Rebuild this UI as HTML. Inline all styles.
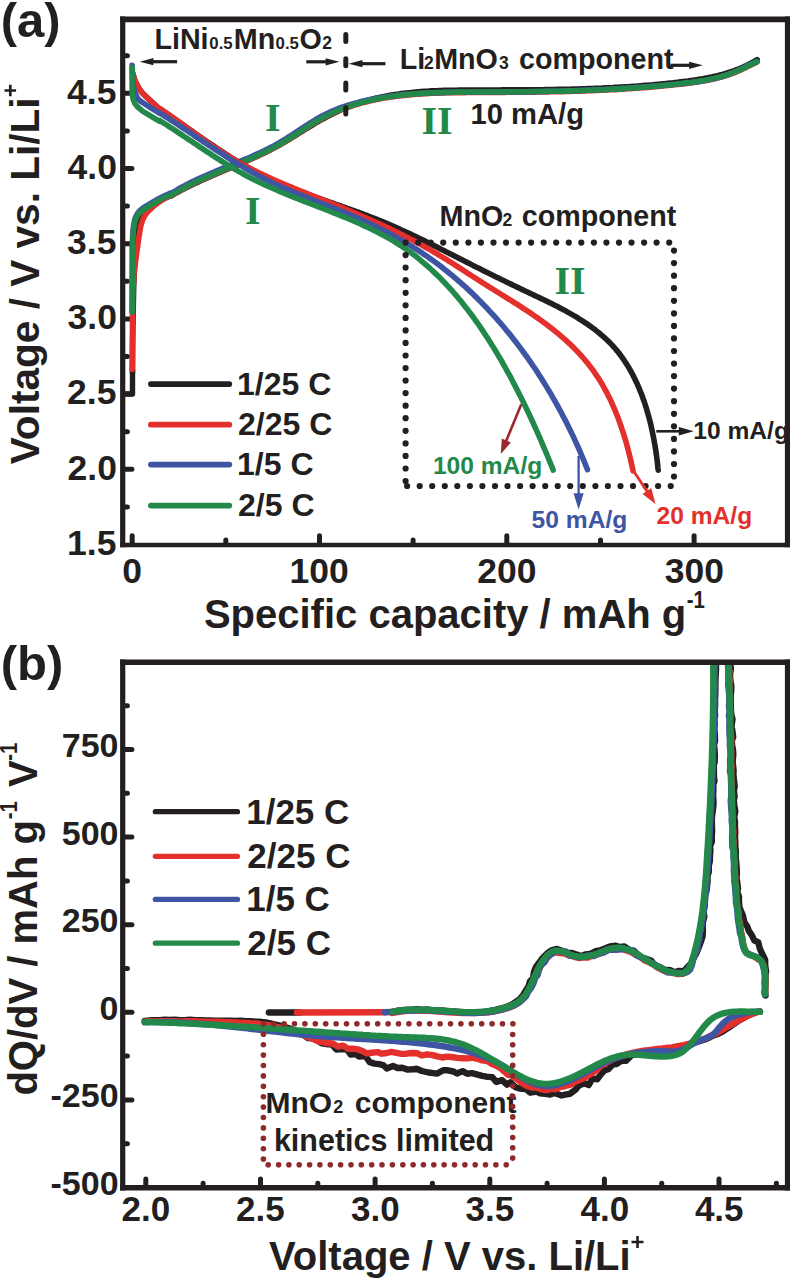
<!DOCTYPE html>
<html><head><meta charset="utf-8"><style>
html,body{margin:0;padding:0;background:#fff;}
svg{display:block;}
text{font-family:"Liberation Sans",sans-serif;font-weight:bold;fill:#231f20;}
</style></head><body>
<svg width="790" height="1280" viewBox="0 0 790 1280">
<rect width="790" height="1280" fill="#fff"/>
<text x="67.1" y="554.7" font-size="35.5">1.5</text>
<line x1="125" y1="469.3" x2="131.9" y2="469.3" stroke="#231f20" stroke-width="5" stroke-linecap="round"/>
<text x="67.6" y="479.5" font-size="35.5">2.0</text>
<line x1="125" y1="394.1" x2="131.9" y2="394.1" stroke="#231f20" stroke-width="5" stroke-linecap="round"/>
<text x="67.1" y="404.3" font-size="35.5">2.5</text>
<line x1="125" y1="318.9" x2="131.9" y2="318.9" stroke="#231f20" stroke-width="5" stroke-linecap="round"/>
<text x="67.6" y="329.1" font-size="35.5">3.0</text>
<line x1="125" y1="243.7" x2="131.9" y2="243.7" stroke="#231f20" stroke-width="5" stroke-linecap="round"/>
<text x="67.1" y="253.9" font-size="35.5">3.5</text>
<line x1="125" y1="168.5" x2="131.9" y2="168.5" stroke="#231f20" stroke-width="5" stroke-linecap="round"/>
<text x="67.6" y="178.7" font-size="35.5">4.0</text>
<line x1="125" y1="93.3" x2="131.9" y2="93.3" stroke="#231f20" stroke-width="5" stroke-linecap="round"/>
<text x="67.1" y="103.5" font-size="35.5">4.5</text>
<line x1="125" y1="506.9" x2="127.4" y2="506.9" stroke="#231f20" stroke-width="5" stroke-linecap="round"/>
<line x1="125" y1="431.7" x2="127.4" y2="431.7" stroke="#231f20" stroke-width="5" stroke-linecap="round"/>
<line x1="125" y1="356.5" x2="127.4" y2="356.5" stroke="#231f20" stroke-width="5" stroke-linecap="round"/>
<line x1="125" y1="281.3" x2="127.4" y2="281.3" stroke="#231f20" stroke-width="5" stroke-linecap="round"/>
<line x1="125" y1="206.1" x2="127.4" y2="206.1" stroke="#231f20" stroke-width="5" stroke-linecap="round"/>
<line x1="125" y1="130.9" x2="127.4" y2="130.9" stroke="#231f20" stroke-width="5" stroke-linecap="round"/>
<line x1="125" y1="55.7" x2="127.4" y2="55.7" stroke="#231f20" stroke-width="5" stroke-linecap="round"/>
<line x1="132.2" y1="542.7" x2="132.2" y2="535.7" stroke="#231f20" stroke-width="5" stroke-linecap="round"/>
<text x="122.3" y="582.5" font-size="35.5">0</text>
<line x1="319.5" y1="542.7" x2="319.5" y2="535.7" stroke="#231f20" stroke-width="5" stroke-linecap="round"/>
<text x="289.5" y="582.5" font-size="35.5">100</text>
<line x1="506.8" y1="542.7" x2="506.8" y2="535.7" stroke="#231f20" stroke-width="5" stroke-linecap="round"/>
<text x="477.3" y="582.5" font-size="35.5">200</text>
<line x1="694.1" y1="542.7" x2="694.1" y2="535.7" stroke="#231f20" stroke-width="5" stroke-linecap="round"/>
<text x="664.8" y="582.5" font-size="35.5">300</text>
<line x1="225.8" y1="542.7" x2="225.8" y2="540" stroke="#231f20" stroke-width="5" stroke-linecap="round"/>
<line x1="413.1" y1="542.7" x2="413.1" y2="540" stroke="#231f20" stroke-width="5" stroke-linecap="round"/>
<line x1="600.5" y1="542.7" x2="600.5" y2="540" stroke="#231f20" stroke-width="5" stroke-linecap="round"/>
<text x="0.7" y="37.3" font-size="49">(a)</text>
<text x="203.9" y="628" font-size="40">Specific capacity / mAh g</text>
<text transform="translate(686.8,607.8) scale(0.85,1)" font-size="24">-1</text>
<g transform="translate(38.6,464) rotate(-90)"><text x="-0.2" y="0" font-size="40.6">Voltage / V vs. Li/Li</text></g>
<path d="M4.5,90.5 H16.1 M10.3,84.7 V96.3" stroke="#231f20" stroke-width="2.7" fill="none"/>
<line x1="150.9" y1="384.1" x2="229.3" y2="384.1" stroke="#231f20" stroke-width="5.7" stroke-linecap="round"/>
<text x="237" y="394.6" font-size="32">1/25 C</text>
<line x1="150.9" y1="424.7" x2="229.3" y2="424.7" stroke="#e3302c" stroke-width="5.7" stroke-linecap="round"/>
<text x="238" y="435.2" font-size="32">2/25 C</text>
<line x1="150.9" y1="464.6" x2="229.3" y2="464.6" stroke="#3d55a3" stroke-width="5.7" stroke-linecap="round"/>
<text x="237" y="475.1" font-size="32">1/5 C</text>
<line x1="150.9" y1="505.6" x2="229.3" y2="505.6" stroke="#23894a" stroke-width="5.7" stroke-linecap="round"/>
<text x="238" y="516.1" font-size="32">2/5 C</text>
<text x="154.4" y="48.8" font-size="28.7">LiNi</text>
<text x="209.3" y="48.8" font-size="16.8">0.5</text>
<text x="233.8" y="48.8" font-size="28.7">Mn</text>
<text x="275.6" y="48.8" font-size="16.8">0.5</text>
<text x="299.4" y="48.8" font-size="28.7">O</text>
<text x="322.2" y="48.8" font-size="17.5">2</text>
<text x="399.7" y="68.8" font-size="28.7">Li</text>
<text x="424" y="68.8" font-size="17.5">2</text>
<text x="434.2" y="68.8" font-size="28.7">MnO</text>
<text x="499.1" y="68.8" font-size="17.5">3</text>
<text x="519" y="68.8" font-size="28.7">component</text>
<text x="265" y="131" font-size="40" style="font-family:'Liberation Serif',serif;fill:#23894a">I</text>
<text x="245.1" y="223.7" font-size="40" style="font-family:'Liberation Serif',serif;fill:#23894a">I</text>
<text x="421.5" y="134.3" font-size="40" style="font-family:'Liberation Serif',serif;fill:#23894a">II</text>
<text x="554.4" y="294.4" font-size="40" style="font-family:'Liberation Serif',serif;fill:#23894a">II</text>
<text x="470.5" y="124.3" font-size="29.2">10 mA/g</text>
<text x="439.6" y="226.3" font-size="28.7">MnO</text>
<text x="502.4" y="226.3" font-size="17.5">2</text>
<text x="521.7" y="226.3" font-size="28.7">component</text>
<path d="M126,394 H132.5 V370" fill="none" stroke="#231f20" stroke-width="5.4" stroke-linecap="round" stroke-linejoin="round"/>
<path d="M132.5,372 C132.6,365 132.6,343.7 132.8,330 C133,316.3 133.3,301.3 133.6,290 C133.9,278.7 134.4,269.7 134.8,262 C135.2,254.3 135.6,249.5 136.2,244 C136.8,238.5 137.4,233.1 138.2,229 C139,224.9 139.8,222.1 140.8,219.5 C141.9,216.9 143.1,214.9 144.5,213.2 C145.9,211.4 147.1,211 149.5,209 C151.9,207 155.6,203.4 159.2,201.2 C162.8,198.9 168.9,196.4 170.9,195.5 L171.1,195.9 L173.3,194.7 L175.5,193.4 L177.7,192.2 L179.9,191 L182.1,189.8 L184.3,188.7 L186.6,187.5 L188.8,186.4 L191.1,185.3 L193.4,184.2 L195.6,183.1 L197.9,182.1 L200.2,181 L202.5,180 L204.8,179 L207.1,177.9 L209.4,176.9 L211.7,175.9 L214,174.9 L216.3,173.9 L218.6,172.9 L220.9,171.9 L223.3,171 L225.6,170 L227.9,169 L230.2,168 L232.5,167 L234.8,166 L237.2,165.1 L239.5,164.1 L241.8,163.1 L244.1,162.1 L246.4,161.1 L248.7,160 L251,159 L253.3,158 L255.6,157 L257.9,155.9 L260.1,154.8 L262.4,153.8 L264.7,152.7 L266.9,151.6 L269.2,150.4 L271.4,149.3 L273.6,148.1 L275.8,147 L278,145.8 L280.2,144.5 L282.4,143.3 L284.6,142 L286.8,140.8 L288.9,139.5 L291.1,138.2 L293.2,136.9 L295.4,135.6 L297.5,134.2 L299.6,132.9 L301.8,131.6 L303.9,130.2 L306.1,128.9 L308.2,127.6 L310.3,126.3 L312.5,125 L314.7,123.7 L316.8,122.4 L319,121.2 L321.2,119.9 L323.4,118.7 L325.6,117.5 L327.8,116.3 L330,115.2 L332.3,114 L334.5,112.9 L336.8,111.9 L339.1,110.8 L341.3,109.8 L343.6,108.8 L346,107.9 L348.3,106.9 L350.6,106 L352.9,105.2 L355.3,104.3 L357.6,103.5 L360,102.7 L362.4,102 L364.8,101.2 L367.2,100.5 L369.6,99.9 L372,99.2 L374.4,98.6 L376.8,98.1 L379.2,97.5 L381.6,97 L384.1,96.5 L386.5,96 L389,95.5 L391.4,95.1 L393.9,94.7 L396.4,94.3 L398.8,94 L401.3,93.6 L403.8,93.3 L406.3,93 L408.8,92.7 L411.2,92.5 L413.7,92.2 L416.2,92 L418.8,91.8 L421.3,91.6 L423.8,91.4 L426.3,91.2 L428.8,91.1 L431.3,90.9 L433.9,90.8 L436.4,90.7 L438.9,90.6 L441.4,90.5 L444,90.4 L446.5,90.4 L449,90.3 L451.6,90.3 L454.1,90.2 L456.7,90.2 L459.2,90.1 L461.7,90.1 L464.3,90.1 L466.8,90.1 L469.4,90 L471.9,90 L474.4,90 L477,90 L479.5,90 L482.1,90 L484.6,90 L487.1,90 L489.7,90 L492.2,90 L494.7,90 L497.3,90 L499.8,90 L502.3,89.9 L504.9,89.9 L507.4,89.9 L509.9,89.9 L512.4,89.9 L515,89.9 L517.5,89.9 L520,89.9 L522.5,89.9 L525.1,89.8 L527.6,89.8 L530.1,89.8 L532.6,89.8 L535.2,89.7 L537.7,89.7 L540.2,89.7 L542.7,89.7 L545.2,89.6 L547.7,89.6 L550.3,89.6 L552.8,89.5 L555.3,89.5 L557.8,89.4 L560.3,89.4 L562.8,89.3 L565.3,89.3 L567.9,89.2 L570.4,89.2 L572.9,89.1 L575.4,89 L577.9,89 L580.4,88.9 L582.9,88.8 L585.4,88.7 L587.9,88.6 L590.4,88.6 L593,88.5 L595.5,88.4 L598,88.3 L600.5,88.2 L603,88 L605.5,87.9 L608,87.8 L610.5,87.7 L613,87.6 L615.5,87.4 L618,87.3 L620.5,87.1 L623,87 L625.5,86.8 L628,86.7 L630.5,86.5 L633,86.3 L635.5,86.2 L638,86 L640.5,85.8 L643,85.6 L645.5,85.4 L648,85.2 L650.5,85 L653,84.8 L655.5,84.5 L658,84.3 L660.5,84.1 L663,83.8 L665.5,83.6 L668,83.3 L670.5,83 L673,82.8 L675.5,82.5 L678,82.2 L680.5,81.9 L683,81.6 L685.5,81.3 L688,81 L690.5,80.6 L692.9,80.3 L695.4,79.9 L697.9,79.5 L700.4,79.1 L702.9,78.7 L705.3,78.2 L707.8,77.8 L710.3,77.3 L712.7,76.8 L715.1,76.2 L717.6,75.6 L720,75 L722.4,74.4 L724.8,73.7 L727.2,73 L729.6,72.2 L732,71.4 L734.3,70.6 L736.7,69.7 L739,68.8 L741.3,67.8 L743.7,66.8 L745.9,65.7 L748.2,64.6 L750.5,63.4 L752.7,62.2 L755,60.9 L757.2,59.6" fill="none" stroke="#231f20" stroke-width="5.6" stroke-linecap="round" stroke-linejoin="round"/>
<path d="M132.2,369.5 C132.2,364.6 132.3,349.6 132.4,340 C132.5,330.4 132.5,320.3 132.6,312 C132.7,303.7 132.8,296.2 133,290 C133.2,283.8 133.6,279.7 134,275 C134.4,270.3 134.9,266.5 135.5,262 C136.1,257.5 136.8,252 137.4,248 C138,244 138.2,241.7 138.8,238 C139.4,234.3 140,229.3 140.8,226 C141.6,222.7 142.3,220.4 143.5,218 C144.7,215.6 145.4,214.2 148,211.5 C150.6,208.8 155.4,204.7 159.2,202 C163,199.3 168.7,196.5 170.6,195.4 L170.9,196 L173.1,194.7 L175.2,193.4 L177.4,192.1 L179.6,190.9 L181.8,189.6 L184,188.4 L186.2,187.3 L188.4,186.1 L190.7,185 L192.9,183.9 L195.2,182.8 L197.4,181.7 L199.7,180.7 L202,179.6 L204.3,178.6 L206.6,177.6 L208.9,176.6 L211.2,175.6 L213.5,174.6 L215.9,173.6 L218.2,172.7 L220.5,171.7 L222.8,170.7 L225.2,169.8 L227.5,168.8 L229.8,167.9 L232.2,166.9 L234.5,166 L236.8,165 L239.1,164.1 L241.5,163.1 L243.8,162.1 L246.1,161.1 L248.4,160.1 L250.7,159.1 L253,158.1 L255.3,157.1 L257.6,156.1 L259.9,155 L262.2,154 L264.4,152.9 L266.7,151.8 L268.9,150.6 L271.2,149.5 L273.4,148.3 L275.6,147.1 L277.8,145.9 L280,144.7 L282.1,143.4 L284.3,142.1 L286.4,140.8 L288.6,139.5 L290.7,138.2 L292.8,136.8 L295,135.4 L297.1,134.1 L299.2,132.7 L301.3,131.3 L303.4,130 L305.5,128.6 L307.7,127.2 L309.8,125.9 L311.9,124.6 L314.1,123.3 L316.2,122 L318.4,120.7 L320.6,119.5 L322.7,118.3 L324.9,117.1 L327.2,115.9 L329.4,114.8 L331.7,113.8 L333.9,112.7 L336.2,111.7 L338.5,110.8 L340.8,109.9 L343.2,109 L345.5,108.1 L347.9,107.3 L350.2,106.5 L352.6,105.7 L355,104.9 L357.4,104.2 L359.8,103.5 L362.2,102.9 L364.6,102.3 L367,101.7 L369.4,101.1 L371.8,100.5 L374.3,100 L376.7,99.5 L379.2,99 L381.6,98.6 L384.1,98.1 L386.5,97.7 L389,97.3 L391.4,96.9 L393.9,96.6 L396.4,96.3 L398.9,95.9 L401.4,95.6 L403.8,95.4 L406.3,95.1 L408.8,94.9 L411.3,94.6 L413.8,94.4 L416.3,94.2 L418.8,94.1 L421.4,93.9 L423.9,93.7 L426.4,93.6 L428.9,93.5 L431.4,93.3 L433.9,93.2 L436.5,93.1 L439,93 L441.5,93 L444,92.9 L446.6,92.8 L449.1,92.8 L451.6,92.7 L454.2,92.7 L456.7,92.6 L459.2,92.6 L461.8,92.6 L464.3,92.6 L466.8,92.5 L469.4,92.5 L471.9,92.5 L474.4,92.5 L477,92.5 L479.5,92.5 L482,92.5 L484.5,92.5 L487.1,92.5 L489.6,92.4 L492.1,92.4 L494.7,92.4 L497.2,92.4 L499.7,92.4 L502.2,92.4 L504.8,92.4 L507.3,92.3 L509.8,92.3 L512.3,92.3 L514.9,92.3 L517.4,92.3 L519.9,92.2 L522.4,92.2 L524.9,92.2 L527.4,92.2 L530,92.1 L532.5,92.1 L535,92.1 L537.5,92 L540,92 L542.5,92 L545.1,91.9 L547.6,91.9 L550.1,91.8 L552.6,91.8 L555.1,91.7 L557.6,91.7 L560.1,91.6 L562.6,91.6 L565.2,91.5 L567.7,91.4 L570.2,91.4 L572.7,91.3 L575.2,91.2 L577.7,91.2 L580.2,91.1 L582.7,91 L585.2,90.9 L587.7,90.8 L590.2,90.7 L592.7,90.6 L595.2,90.5 L597.8,90.4 L600.3,90.3 L602.8,90.2 L605.3,90.1 L607.8,90 L610.3,89.8 L612.8,89.7 L615.3,89.6 L617.8,89.4 L620.3,89.3 L622.8,89.1 L625.3,89 L627.8,88.8 L630.3,88.6 L632.8,88.5 L635.3,88.3 L637.8,88.1 L640.3,87.9 L642.8,87.8 L645.3,87.6 L647.8,87.4 L650.3,87.2 L652.8,86.9 L655.3,86.7 L657.8,86.5 L660.3,86.3 L662.8,86 L665.3,85.8 L667.8,85.5 L670.3,85.3 L672.8,85 L675.3,84.8 L677.8,84.5 L680.3,84.2 L682.8,83.9 L685.3,83.6 L687.8,83.3 L690.3,83 L692.7,82.7 L695.2,82.3 L697.7,81.9 L700.2,81.5 L702.7,81.1 L705.1,80.7 L707.6,80.2 L710,79.7 L712.5,79.2 L714.9,78.7 L717.4,78.1 L719.8,77.4 L722.2,76.8 L724.6,76.1 L727,75.3 L729.3,74.5 L731.7,73.7 L734,72.8 L736.4,71.9 L738.7,70.9 L741,69.9 L743.3,68.8 L745.6,67.7 L747.8,66.6 L750.1,65.5 L752.4,64.3 L754.6,63.2 L756.9,62" fill="none" stroke="#e3302c" stroke-width="5.6" stroke-linecap="round" stroke-linejoin="round"/>
<path d="M132.2,312 C132.2,303.4 132.3,271.7 132.3,260.2 C132.3,248.7 132.2,248.4 132.4,243.2 C132.6,238 132.7,233.1 133.2,228.8 C133.7,224.5 134.3,220.4 135.4,217.4 C136.5,214.3 138,212.5 140,210.5 C142,208.5 144.4,207.2 147.6,205.2 C150.8,203.2 155.2,200.4 159,198.4 C162.8,196.4 168.5,194 170.4,193.1 L170.7,193.8 L172.9,192.4 L175,191.1 L177.2,189.8 L179.3,188.5 L181.5,187.3 L183.7,186.1 L186,184.9 L188.2,183.8 L190.4,182.6 L192.7,181.5 L194.9,180.4 L197.2,179.3 L199.5,178.3 L201.8,177.2 L204.1,176.2 L206.4,175.2 L208.7,174.2 L211,173.2 L213.3,172.3 L215.6,171.3 L217.9,170.3 L220.3,169.4 L222.6,168.4 L224.9,167.5 L227.3,166.5 L229.6,165.6 L231.9,164.7 L234.3,163.7 L236.6,162.8 L238.9,161.8 L241.2,160.9 L243.6,159.9 L245.9,158.9 L248.2,158 L250.5,157 L252.8,156 L255.1,154.9 L257.4,153.9 L259.7,152.9 L261.9,151.8 L264.2,150.7 L266.5,149.6 L268.7,148.5 L270.9,147.3 L273.1,146.2 L275.4,145 L277.5,143.7 L279.7,142.5 L281.9,141.2 L284,139.9 L286.2,138.6 L288.3,137.2 L290.4,135.8 L292.6,134.5 L294.7,133.1 L296.8,131.7 L298.9,130.3 L301,128.9 L303.1,127.5 L305.2,126.1 L307.3,124.8 L309.5,123.4 L311.6,122.1 L313.7,120.8 L315.9,119.5 L318,118.2 L320.2,117 L322.4,115.8 L324.6,114.7 L326.9,113.5 L329.1,112.5 L331.4,111.4 L333.6,110.5 L335.9,109.5 L338.2,108.6 L340.6,107.7 L342.9,106.9 L345.3,106.1 L347.6,105.3 L350,104.6 L352.4,103.9 L354.8,103.2 L357.2,102.6 L359.6,101.9 L362,101.3 L364.4,100.8 L366.8,100.2 L369.3,99.7 L371.7,99.2 L374.2,98.7 L376.6,98.3 L379.1,97.9 L381.5,97.4 L384,97.1 L386.4,96.7 L388.9,96.3 L391.4,96 L393.9,95.7 L396.4,95.4 L398.8,95.1 L401.3,94.9 L403.8,94.6 L406.3,94.4 L408.8,94.2 L411.3,94 L413.8,93.8 L416.3,93.6 L418.8,93.5 L421.3,93.3 L423.9,93.2 L426.4,93.1 L428.9,93 L431.4,92.9 L433.9,92.8 L436.5,92.7 L439,92.6 L441.5,92.6 L444,92.5 L446.6,92.5 L449.1,92.4 L451.6,92.4 L454.2,92.3 L456.7,92.3 L459.2,92.3 L461.8,92.3 L464.3,92.2 L466.8,92.2 L469.4,92.2 L471.9,92.2 L474.4,92.2 L477,92.2 L479.5,92.2 L482,92.2 L484.5,92.1 L487.1,92.1 L489.6,92.1 L492.1,92.1 L494.6,92.1 L497.2,92.1 L499.7,92 L502.2,92 L504.7,92 L507.2,92 L509.8,92 L512.3,91.9 L514.8,91.9 L517.3,91.9 L519.8,91.8 L522.4,91.8 L524.9,91.8 L527.4,91.7 L529.9,91.7 L532.4,91.7 L534.9,91.6 L537.4,91.6 L539.9,91.5 L542.5,91.5 L545,91.4 L547.5,91.4 L550,91.3 L552.5,91.3 L555,91.2 L557.5,91.1 L560,91.1 L562.5,91 L565,90.9 L567.5,90.8 L570,90.8 L572.5,90.7 L575.1,90.6 L577.6,90.5 L580.1,90.4 L582.6,90.3 L585.1,90.2 L587.6,90.1 L590.1,90 L592.6,89.9 L595.1,89.8 L597.6,89.7 L600.1,89.6 L602.6,89.5 L605.1,89.4 L607.6,89.2 L610.1,89.1 L612.6,89 L615.1,88.8 L617.6,88.7 L620.1,88.6 L622.6,88.4 L625.1,88.3 L627.6,88.1 L630.1,87.9 L632.6,87.8 L635.1,87.6 L637.6,87.4 L640.1,87.2 L642.6,87.1 L645.1,86.9 L647.6,86.7 L650.1,86.5 L652.6,86.3 L655.1,86.1 L657.6,85.9 L660.1,85.7 L662.6,85.4 L665.1,85.2 L667.6,85 L670.1,84.7 L672.6,84.5 L675.1,84.3 L677.6,84 L680.1,83.8 L682.6,83.5 L685.1,83.2 L687.6,82.9 L690.1,82.7 L692.6,82.3 L695.1,82 L697.6,81.7 L700.1,81.3 L702.6,80.9 L705,80.5 L707.5,80 L710,79.5 L712.4,79 L714.8,78.4 L717.2,77.8 L719.7,77.2 L722.1,76.5 L724.4,75.7 L726.8,74.9 L729.2,74.1 L731.5,73.2 L733.8,72.2 L736.1,71.2 L738.4,70.1 L740.7,68.9 L742.9,67.8 L745.2,66.7 L747.5,65.6 L749.8,64.5 L752.1,63.6 L754.5,62.7 L756.8,61.9" fill="none" stroke="#3d55a3" stroke-width="5.6" stroke-linecap="round" stroke-linejoin="round"/>
<path d="M132.2,311.7 C132.2,303.4 132.4,273.1 132.5,262 C132.6,250.9 132.4,250.2 132.6,245 C132.8,239.8 132.9,234.9 133.4,230.6 C133.9,226.3 134.5,222.2 135.6,219.2 C136.7,216.1 138.2,214.3 140.2,212.3 C142.2,210.3 144.6,209 147.8,207 C151,205 155.4,202.2 159.2,200.2 C163,198.2 168.7,195.8 170.6,194.9 L170.9,195.5 L173.1,194.2 L175.2,192.9 L177.4,191.6 L179.6,190.4 L181.8,189.1 L184,187.9 L186.2,186.8 L188.4,185.6 L190.7,184.5 L192.9,183.4 L195.2,182.3 L197.4,181.2 L199.7,180.2 L202,179.1 L204.3,178.1 L206.6,177.1 L208.9,176.1 L211.2,175.1 L213.5,174.1 L215.9,173.1 L218.2,172.2 L220.5,171.2 L222.8,170.2 L225.2,169.3 L227.5,168.3 L229.8,167.4 L232.2,166.4 L234.5,165.5 L236.8,164.5 L239.1,163.6 L241.5,162.6 L243.8,161.6 L246.1,160.6 L248.4,159.6 L250.7,158.6 L253,157.6 L255.3,156.6 L257.6,155.6 L259.9,154.5 L262.2,153.5 L264.4,152.4 L266.7,151.3 L268.9,150.1 L271.2,149 L273.4,147.8 L275.6,146.6 L277.8,145.4 L280,144.2 L282.1,142.9 L284.3,141.6 L286.4,140.3 L288.6,139 L290.7,137.7 L292.8,136.3 L295,134.9 L297.1,133.6 L299.2,132.2 L301.3,130.8 L303.4,129.5 L305.5,128.1 L307.7,126.7 L309.8,125.4 L311.9,124.1 L314.1,122.8 L316.2,121.5 L318.4,120.2 L320.6,119 L322.7,117.8 L324.9,116.6 L327.2,115.4 L329.4,114.3 L331.7,113.3 L333.9,112.2 L336.2,111.2 L338.5,110.3 L340.8,109.4 L343.2,108.5 L345.5,107.6 L347.9,106.8 L350.2,106 L352.6,105.2 L355,104.4 L357.4,103.7 L359.8,103 L362.2,102.4 L364.6,101.8 L367,101.2 L369.4,100.6 L371.8,100 L374.3,99.5 L376.7,99 L379.2,98.5 L381.6,98.1 L384.1,97.6 L386.5,97.2 L389,96.8 L391.4,96.4 L393.9,96.1 L396.4,95.8 L398.9,95.4 L401.4,95.1 L403.8,94.9 L406.3,94.6 L408.8,94.4 L411.3,94.1 L413.8,93.9 L416.3,93.7 L418.8,93.6 L421.4,93.4 L423.9,93.2 L426.4,93.1 L428.9,93 L431.4,92.8 L433.9,92.7 L436.5,92.6 L439,92.5 L441.5,92.5 L444,92.4 L446.6,92.3 L449.1,92.3 L451.6,92.2 L454.2,92.2 L456.7,92.1 L459.2,92.1 L461.8,92.1 L464.3,92.1 L466.8,92 L469.4,92 L471.9,92 L474.4,92 L477,92 L479.5,92 L482,92 L484.5,92 L487.1,92 L489.6,91.9 L492.1,91.9 L494.7,91.9 L497.2,91.9 L499.7,91.9 L502.2,91.9 L504.8,91.9 L507.3,91.8 L509.8,91.8 L512.3,91.8 L514.9,91.8 L517.4,91.8 L519.9,91.7 L522.4,91.7 L524.9,91.7 L527.4,91.7 L530,91.6 L532.5,91.6 L535,91.6 L537.5,91.5 L540,91.5 L542.5,91.5 L545.1,91.4 L547.6,91.4 L550.1,91.3 L552.6,91.3 L555.1,91.2 L557.6,91.2 L560.1,91.1 L562.6,91.1 L565.2,91 L567.7,90.9 L570.2,90.9 L572.7,90.8 L575.2,90.7 L577.7,90.7 L580.2,90.6 L582.7,90.5 L585.2,90.4 L587.7,90.3 L590.2,90.2 L592.7,90.1 L595.2,90 L597.8,89.9 L600.3,89.8 L602.8,89.7 L605.3,89.6 L607.8,89.5 L610.3,89.3 L612.8,89.2 L615.3,89.1 L617.8,88.9 L620.3,88.8 L622.8,88.6 L625.3,88.5 L627.8,88.3 L630.3,88.1 L632.8,88 L635.3,87.8 L637.8,87.6 L640.3,87.4 L642.8,87.3 L645.3,87.1 L647.8,86.9 L650.3,86.7 L652.8,86.4 L655.3,86.2 L657.8,86 L660.3,85.8 L662.8,85.5 L665.3,85.3 L667.8,85 L670.3,84.8 L672.8,84.5 L675.3,84.3 L677.8,84 L680.3,83.7 L682.8,83.4 L685.3,83.1 L687.8,82.8 L690.3,82.5 L692.7,82.2 L695.2,81.8 L697.7,81.4 L700.2,81 L702.7,80.6 L705.1,80.2 L707.6,79.7 L710,79.2 L712.5,78.7 L714.9,78.2 L717.4,77.6 L719.8,76.9 L722.2,76.3 L724.6,75.6 L727,74.8 L729.3,74 L731.7,73.2 L734,72.3 L736.4,71.4 L738.7,70.4 L741,69.4 L743.3,68.3 L745.6,67.2 L747.8,66.1 L750.1,65 L752.4,63.8 L754.6,62.7 L756.9,61.5" fill="none" stroke="#23894a" stroke-width="5.6" stroke-linecap="round" stroke-linejoin="round"/>
<path d="M133,74 C133.4,75.2 133.8,78.1 135.3,81.2 C136.8,84.3 138.1,88 142.1,92.6 C146.1,97.1 156.3,105.8 159.2,108.5 L159.3,108.4 L161.4,109.8 L163.4,111.2 L165.5,112.6 L167.6,114 L169.6,115.5 L171.7,116.9 L173.7,118.3 L175.8,119.8 L177.8,121.2 L179.9,122.7 L182,124.1 L184,125.6 L186.1,127 L188.1,128.5 L190.2,129.9 L192.3,131.4 L194.3,132.8 L196.4,134.3 L198.5,135.7 L200.6,137.2 L202.6,138.6 L204.7,140 L206.8,141.5 L208.9,142.9 L211,144.3 L213.1,145.7 L215.2,147.1 L217.3,148.6 L219.4,149.9 L221.5,151.3 L223.6,152.7 L225.7,154.1 L227.9,155.4 L230,156.8 L232.1,158.1 L234.3,159.4 L236.4,160.8 L238.6,162 L240.8,163.3 L242.9,164.6 L245.1,165.9 L247.3,167.1 L249.5,168.3 L251.7,169.5 L253.9,170.7 L256.1,171.9 L258.4,173.1 L260.6,174.2 L262.8,175.3 L265.1,176.4 L267.4,177.5 L269.6,178.6 L271.9,179.6 L274.2,180.7 L276.5,181.7 L278.8,182.7 L281.1,183.7 L283.4,184.7 L285.7,185.6 L288,186.6 L290.4,187.5 L292.7,188.5 L295,189.4 L297.4,190.3 L299.7,191.2 L302.1,192.1 L304.4,193 L306.8,193.9 L309.1,194.7 L311.5,195.6 L313.9,196.5 L316.2,197.3 L318.6,198.2 L321,199 L323.3,199.9 L325.7,200.7 L328.1,201.6 L330.5,202.4 L332.9,203.2 L335.2,204.1 L337.6,204.9 L340,205.7 L342.4,206.6 L344.7,207.4 L347.1,208.3 L349.5,209.1 L351.9,210 L354.2,210.8 L356.6,211.7 L359,212.5 L361.3,213.4 L363.7,214.3 L366.1,215.2 L368.4,216.1 L370.8,217 L373.1,217.9 L375.5,218.8 L377.8,219.7 L380.1,220.7 L382.4,221.6 L384.8,222.6 L387.1,223.6 L389.4,224.6 L391.7,225.6 L394,226.6 L396.3,227.6 L398.6,228.6 L400.9,229.7 L403.2,230.7 L405.5,231.8 L407.7,232.8 L410,233.9 L412.3,235 L414.5,236 L416.8,237.1 L419.1,238.2 L421.3,239.3 L423.6,240.4 L425.8,241.5 L428.1,242.7 L430.3,243.8 L432.6,244.9 L434.8,246 L437,247.1 L439.3,248.3 L441.5,249.4 L443.8,250.5 L446,251.7 L448.2,252.8 L450.4,253.9 L452.7,255.1 L454.9,256.2 L457.1,257.3 L459.4,258.5 L461.6,259.6 L463.8,260.7 L466,261.9 L468.3,263 L470.5,264.1 L472.7,265.3 L474.9,266.4 L477.2,267.5 L479.4,268.6 L481.6,269.7 L483.8,270.9 L486.1,272 L488.3,273.1 L490.6,274.2 L492.8,275.3 L495,276.4 L497.3,277.5 L499.5,278.6 L501.8,279.7 L504.1,280.8 L506.3,281.9 L508.6,283 L510.9,284.1 L513.1,285.2 L515.4,286.3 L517.7,287.4 L520,288.5 L522.3,289.6 L524.6,290.7 L526.9,291.8 L529.2,292.9 L531.6,294 L533.9,295.1 L536.2,296.2 L538.5,297.3 L540.8,298.4 L543.2,299.5 L545.5,300.6 L547.8,301.7 L550.1,302.9 L552.4,304 L554.7,305.2 L557,306.3 L559.2,307.5 L561.5,308.7 L563.7,309.9 L566,311.1 L568.2,312.4 L570.4,313.6 L572.6,314.9 L574.8,316.1 L577,317.4 L579.1,318.8 L581.2,320.1 L583.3,321.5 L585.4,322.8 L587.5,324.2 L589.5,325.7 L591.6,327.1 L593.5,328.6 L595.5,330.1 L597.4,331.6 L599.4,333.2 L601.2,334.8 L603.1,336.4 L604.9,338 L606.7,339.7 L608.5,341.4 L610.2,343.1 L611.9,344.9 L613.5,346.7 L615.1,348.5 L616.7,350.4 L618.3,352.3 L619.8,354.3 L621.2,356.2 L622.7,358.2 L624.1,360.3 L625.4,362.3 L626.8,364.4 L628.1,366.5 L629.4,368.7 L630.6,370.8 L631.8,373 L633,375.2 L634.1,377.4 L635.2,379.7 L636.3,382 L637.4,384.3 L638.4,386.6 L639.4,388.9 L640.3,391.3 L641.3,393.6 L642.2,396 L643,398.4 L643.9,400.8 L644.7,403.2 L645.5,405.7 L646.3,408.1 L647,410.6 L647.7,413 L648.4,415.5 L649.1,418 L649.8,420.5 L650.4,423 L651,425.5 L651.5,428 L652.1,430.5 L652.6,433 L653.1,435.5 L653.6,438 L654.1,440.5 L654.5,443 L655,445.5 L655.4,448 L655.8,450.5 L656.1,453 L656.5,455.5 L656.8,458 L657.1,460.4 L657.4,462.9 L657.7,465.4 L657.9,467.8 L658.2,470.2" fill="none" stroke="#231f20" stroke-width="5.6" stroke-linecap="round" stroke-linejoin="round"/>
<path d="M133,74 C133.4,75.2 133.8,78.1 135.3,81.2 C136.8,84.3 138.1,88 142.1,92.6 C146.1,97.1 156.3,105.8 159.2,108.5 L159.3,108.3 L161.4,109.7 L163.5,111.1 L165.5,112.5 L167.6,113.9 L169.7,115.3 L171.7,116.8 L173.8,118.2 L175.8,119.7 L177.9,121.1 L179.9,122.6 L181.9,124.1 L184,125.5 L186,127 L188.1,128.5 L190.1,130 L192.1,131.4 L194.2,132.9 L196.2,134.4 L198.3,135.9 L200.3,137.3 L202.4,138.8 L204.4,140.3 L206.5,141.7 L208.6,143.2 L210.7,144.6 L212.7,146 L214.8,147.4 L216.9,148.8 L219,150.2 L221.1,151.6 L223.2,153 L225.3,154.3 L227.5,155.6 L229.6,156.9 L231.8,158.2 L233.9,159.5 L236.1,160.7 L238.3,162 L240.5,163.2 L242.7,164.4 L244.9,165.6 L247.1,166.8 L249.3,167.9 L251.5,169.1 L253.7,170.2 L256,171.3 L258.2,172.4 L260.5,173.5 L262.7,174.6 L265,175.6 L267.3,176.7 L269.6,177.7 L271.8,178.8 L274.1,179.8 L276.4,180.8 L278.7,181.8 L281,182.8 L283.3,183.8 L285.6,184.8 L287.9,185.8 L290.2,186.7 L292.6,187.7 L294.9,188.7 L297.2,189.6 L299.5,190.6 L301.9,191.5 L304.2,192.4 L306.5,193.4 L308.9,194.3 L311.2,195.2 L313.5,196.2 L315.9,197.1 L318.2,198 L320.5,199 L322.9,199.9 L325.2,200.8 L327.5,201.8 L329.9,202.7 L332.2,203.6 L334.5,204.6 L336.8,205.5 L339.2,206.4 L341.5,207.4 L343.8,208.4 L346.1,209.3 L348.5,210.3 L350.8,211.2 L353.1,212.2 L355.4,213.2 L357.7,214.2 L360,215.2 L362.3,216.2 L364.6,217.2 L366.9,218.2 L369.2,219.2 L371.5,220.2 L373.7,221.2 L376,222.3 L378.3,223.3 L380.6,224.4 L382.8,225.4 L385.1,226.5 L387.4,227.5 L389.6,228.6 L391.9,229.7 L394.1,230.8 L396.4,231.9 L398.6,233 L400.8,234.1 L403.1,235.2 L405.3,236.4 L407.5,237.5 L409.7,238.7 L412,239.8 L414.2,241 L416.4,242.2 L418.6,243.4 L420.8,244.6 L423,245.8 L425.1,247 L427.3,248.2 L429.5,249.4 L431.7,250.7 L433.8,252 L436,253.2 L438.1,254.5 L440.3,255.8 L442.4,257.1 L444.6,258.4 L446.7,259.7 L448.8,261.1 L450.9,262.4 L453,263.7 L455.2,265.1 L457.3,266.4 L459.4,267.8 L461.5,269.2 L463.6,270.5 L465.7,271.9 L467.8,273.3 L469.9,274.6 L472.1,276 L474.2,277.4 L476.3,278.7 L478.4,280.1 L480.5,281.4 L482.7,282.8 L484.8,284.1 L486.9,285.5 L489.1,286.8 L491.2,288.1 L493.4,289.5 L495.5,290.8 L497.6,292.1 L499.8,293.5 L501.9,294.8 L504.1,296.1 L506.2,297.5 L508.3,298.8 L510.5,300.1 L512.6,301.5 L514.7,302.8 L516.9,304.2 L519,305.5 L521.1,306.9 L523.2,308.3 L525.3,309.6 L527.4,311 L529.5,312.4 L531.6,313.8 L533.6,315.2 L535.7,316.7 L537.8,318.1 L539.8,319.5 L541.8,321 L543.9,322.5 L545.9,324 L547.9,325.5 L549.8,327 L551.8,328.5 L553.8,330.1 L555.7,331.7 L557.7,333.2 L559.6,334.8 L561.5,336.5 L563.3,338.1 L565.2,339.7 L567,341.4 L568.9,343.1 L570.7,344.8 L572.4,346.5 L574.2,348.3 L576,350 L577.7,351.8 L579.4,353.6 L581,355.5 L582.7,357.3 L584.3,359.2 L585.9,361.1 L587.5,363 L589,365 L590.5,366.9 L592,368.9 L593.5,370.9 L594.9,373 L596.3,375.1 L597.7,377.1 L599.1,379.3 L600.4,381.4 L601.7,383.5 L602.9,385.7 L604.2,387.9 L605.4,390.1 L606.6,392.3 L607.7,394.6 L608.9,396.9 L610,399.1 L611.1,401.4 L612.1,403.7 L613.2,406.1 L614.2,408.4 L615.2,410.7 L616.1,413.1 L617.1,415.5 L618,417.8 L618.9,420.2 L619.7,422.6 L620.6,425 L621.4,427.4 L622.2,429.8 L623,432.2 L623.8,434.6 L624.5,437.1 L625.3,439.5 L626,441.9 L626.7,444.3 L627.3,446.8 L628,449.2 L628.6,451.6 L629.2,454 L629.8,456.4 L630.4,458.9 L630.9,461.3 L631.5,463.7 L632,466.1 L632.5,468.4 L633,470.8" fill="none" stroke="#e3302c" stroke-width="5.6" stroke-linecap="round" stroke-linejoin="round"/>
<path d="M132.1,65.4 C132.3,68.8 132.6,80.9 133.3,86 C134,91.1 135.2,93.4 136.5,96 C137.8,98.6 137.2,98.8 141,101.6 C144.8,104.4 156.2,111.2 159.2,113.1 L159.4,112.8 L161.5,114.1 L163.7,115.4 L165.8,116.8 L167.9,118.1 L170,119.5 L172.1,120.8 L174.2,122.2 L176.4,123.6 L178.5,125 L180.6,126.4 L182.7,127.8 L184.8,129.1 L186.9,130.5 L189,131.9 L191.1,133.3 L193.2,134.8 L195.2,136.2 L197.3,137.6 L199.4,139 L201.5,140.4 L203.6,141.8 L205.7,143.2 L207.8,144.6 L209.9,146 L212,147.4 L214.1,148.7 L216.2,150.1 L218.3,151.5 L220.5,152.9 L222.6,154.2 L224.7,155.6 L226.8,157 L228.9,158.3 L231.1,159.7 L233.2,161 L235.3,162.3 L237.5,163.6 L239.6,164.9 L241.8,166.2 L243.9,167.5 L246.1,168.8 L248.3,170 L250.5,171.3 L252.6,172.5 L254.8,173.7 L257,174.9 L259.2,176.1 L261.4,177.3 L263.7,178.4 L265.9,179.6 L268.1,180.7 L270.4,181.8 L272.6,182.9 L274.9,184 L277.2,185 L279.5,186.1 L281.7,187.1 L284,188.1 L286.3,189.1 L288.6,190.1 L291,191.1 L293.3,192.1 L295.6,193 L297.9,194 L300.2,194.9 L302.6,195.9 L304.9,196.8 L307.3,197.7 L309.6,198.7 L311.9,199.6 L314.3,200.5 L316.6,201.4 L319,202.3 L321.3,203.3 L323.7,204.2 L326,205.1 L328.4,206 L330.7,206.9 L333,207.9 L335.4,208.8 L337.7,209.8 L340.1,210.7 L342.4,211.7 L344.7,212.6 L347,213.6 L349.3,214.6 L351.7,215.6 L354,216.6 L356.3,217.6 L358.6,218.6 L360.9,219.6 L363.2,220.7 L365.4,221.7 L367.7,222.8 L370,223.8 L372.3,224.9 L374.5,226 L376.8,227.1 L379,228.2 L381.3,229.4 L383.5,230.5 L385.7,231.6 L388,232.8 L390.2,234 L392.4,235.2 L394.6,236.4 L396.8,237.6 L398.9,238.8 L401.1,240 L403.3,241.3 L405.4,242.5 L407.6,243.8 L409.7,245.1 L411.9,246.4 L414,247.8 L416.1,249.1 L418.2,250.4 L420.3,251.8 L422.4,253.2 L424.4,254.6 L426.5,256 L428.6,257.4 L430.6,258.9 L432.6,260.3 L434.7,261.8 L436.7,263.3 L438.7,264.8 L440.7,266.3 L442.6,267.8 L444.6,269.4 L446.6,270.9 L448.5,272.5 L450.5,274.1 L452.4,275.7 L454.3,277.3 L456.2,278.9 L458.1,280.6 L460,282.2 L461.9,283.9 L463.8,285.5 L465.7,287.2 L467.5,288.9 L469.3,290.6 L471.2,292.4 L473,294.1 L474.8,295.9 L476.6,297.6 L478.4,299.4 L480.2,301.2 L481.9,303 L483.7,304.8 L485.4,306.6 L487.2,308.4 L488.9,310.3 L490.6,312.1 L492.3,314 L494,315.8 L495.7,317.7 L497.4,319.6 L499,321.5 L500.7,323.4 L502.3,325.3 L504,327.3 L505.6,329.2 L507.2,331.2 L508.8,333.1 L510.4,335.1 L512,337.1 L513.5,339.1 L515.1,341 L516.6,343.1 L518.2,345.1 L519.7,347.1 L521.2,349.1 L522.7,351.2 L524.2,353.2 L525.7,355.3 L527.2,357.3 L528.6,359.4 L530.1,361.5 L531.5,363.5 L532.9,365.6 L534.4,367.7 L535.8,369.8 L537.2,371.9 L538.5,374.1 L539.9,376.2 L541.3,378.3 L542.6,380.5 L544,382.6 L545.3,384.8 L546.6,386.9 L547.9,389.1 L549.2,391.2 L550.5,393.4 L551.8,395.6 L553,397.8 L554.3,400 L555.5,402.2 L556.8,404.4 L558,406.6 L559.2,408.8 L560.4,411 L561.6,413.2 L562.7,415.4 L563.9,417.7 L565.1,419.9 L566.2,422.1 L567.3,424.4 L568.4,426.6 L569.5,428.9 L570.6,431.1 L571.7,433.4 L572.8,435.6 L573.9,437.9 L574.9,440.1 L575.9,442.4 L577,444.7 L578,446.9 L579,449.2 L580,451.5 L581,453.8 L581.9,456 L582.9,458.3 L583.8,460.6 L584.8,462.9 L585.7,465.2 L586.6,467.5 L587.5,469.7" fill="none" stroke="#3d55a3" stroke-width="5.6" stroke-linecap="round" stroke-linejoin="round"/>
<path d="M132.2,67.6 C132.2,72.1 131.9,88.8 132.4,94.9 C132.9,101 133.7,101.3 135.3,104 C136.9,106.7 138.1,108 142.1,110.8 C146.1,113.6 156.3,119.4 159.2,121.1 L159.5,120.4 L161.7,121.8 L163.8,123.1 L166,124.5 L168.1,125.9 L170.2,127.3 L172.4,128.6 L174.5,130 L176.6,131.4 L178.7,132.8 L180.8,134.2 L182.9,135.6 L185,137 L187.1,138.4 L189.2,139.8 L191.3,141.2 L193.4,142.6 L195.5,144 L197.5,145.4 L199.6,146.8 L201.7,148.2 L203.8,149.6 L205.9,151 L208,152.3 L210.1,153.7 L212.2,155.1 L214.3,156.5 L216.4,157.8 L218.5,159.2 L220.6,160.5 L222.7,161.8 L224.8,163.2 L227,164.5 L229.1,165.8 L231.2,167.1 L233.4,168.3 L235.5,169.6 L237.7,170.8 L239.9,172.1 L242.1,173.3 L244.2,174.5 L246.4,175.7 L248.7,176.9 L250.9,178.1 L253.1,179.2 L255.3,180.3 L257.6,181.4 L259.9,182.5 L262.1,183.6 L264.4,184.7 L266.7,185.7 L269,186.8 L271.3,187.8 L273.6,188.8 L275.9,189.8 L278.2,190.8 L280.6,191.8 L282.9,192.8 L285.2,193.8 L287.6,194.7 L289.9,195.7 L292.3,196.6 L294.7,197.6 L297,198.5 L299.4,199.4 L301.7,200.4 L304.1,201.3 L306.5,202.2 L308.9,203.1 L311.2,204 L313.6,205 L316,205.9 L318.3,206.8 L320.7,207.7 L323.1,208.6 L325.4,209.5 L327.8,210.5 L330.2,211.4 L332.5,212.3 L334.9,213.3 L337.2,214.2 L339.6,215.1 L341.9,216.1 L344.3,217.1 L346.6,218 L348.9,219 L351.3,220 L353.6,221 L355.9,222 L358.2,223 L360.5,224 L362.8,225.1 L365,226.1 L367.3,227.2 L369.6,228.2 L371.8,229.3 L374,230.4 L376.3,231.6 L378.5,232.7 L380.7,233.9 L382.9,235 L385.1,236.2 L387.2,237.4 L389.4,238.7 L391.5,239.9 L393.7,241.2 L395.8,242.5 L397.9,243.8 L399.9,245.1 L402,246.5 L404.1,247.9 L406.1,249.3 L408.1,250.7 L410.1,252.1 L412.1,253.6 L414.1,255.1 L416.1,256.6 L418,258.1 L419.9,259.7 L421.8,261.3 L423.7,262.9 L425.6,264.5 L427.5,266.1 L429.4,267.8 L431.2,269.5 L433,271.2 L434.8,272.9 L436.6,274.6 L438.4,276.3 L440.2,278.1 L441.9,279.9 L443.7,281.7 L445.4,283.5 L447.1,285.3 L448.8,287.2 L450.5,289 L452.2,290.9 L453.8,292.8 L455.5,294.7 L457.1,296.6 L458.7,298.6 L460.4,300.5 L462,302.5 L463.5,304.4 L465.1,306.4 L466.7,308.4 L468.2,310.4 L469.7,312.5 L471.3,314.5 L472.8,316.5 L474.3,318.6 L475.7,320.6 L477.2,322.7 L478.7,324.8 L480.1,326.9 L481.6,329 L483,331.1 L484.4,333.2 L485.8,335.4 L487.2,337.5 L488.6,339.6 L489.9,341.8 L491.3,344 L492.6,346.1 L494,348.3 L495.3,350.5 L496.6,352.6 L497.9,354.8 L499.2,357 L500.5,359.2 L501.8,361.4 L503,363.6 L504.3,365.8 L505.5,368 L506.7,370.3 L508,372.5 L509.2,374.7 L510.4,376.9 L511.6,379.1 L512.7,381.4 L513.9,383.6 L515.1,385.8 L516.2,388.1 L517.4,390.3 L518.5,392.5 L519.6,394.8 L520.8,397 L521.9,399.2 L523,401.5 L524.1,403.7 L525.2,406 L526.2,408.2 L527.3,410.5 L528.4,412.7 L529.4,415 L530.5,417.2 L531.5,419.5 L532.6,421.8 L533.6,424 L534.6,426.3 L535.7,428.6 L536.7,430.9 L537.7,433.1 L538.7,435.4 L539.7,437.7 L540.7,440 L541.7,442.3 L542.7,444.6 L543.6,446.9 L544.6,449.2 L545.6,451.5 L546.6,453.8 L547.5,456.1 L548.5,458.5 L549.4,460.8 L550.4,463.1 L551.4,465.5 L552.3,467.8 L553.2,470.2" fill="none" stroke="#23894a" stroke-width="5.6" stroke-linecap="round" stroke-linejoin="round"/>
<g fill="#231f20"><circle cx="405.6" cy="242.6" r="3.1"/><circle cx="418.2" cy="242.6" r="3.1"/><circle cx="430.7" cy="242.6" r="3.1"/><circle cx="443.2" cy="242.6" r="3.1"/><circle cx="455.8" cy="242.6" r="3.1"/><circle cx="468.4" cy="242.6" r="3.1"/><circle cx="480.9" cy="242.6" r="3.1"/><circle cx="493.5" cy="242.6" r="3.1"/><circle cx="506" cy="242.6" r="3.1"/><circle cx="518.6" cy="242.6" r="3.1"/><circle cx="531.1" cy="242.6" r="3.1"/><circle cx="543.7" cy="242.6" r="3.1"/><circle cx="556.2" cy="242.6" r="3.1"/><circle cx="568.8" cy="242.6" r="3.1"/><circle cx="581.3" cy="242.6" r="3.1"/><circle cx="593.9" cy="242.6" r="3.1"/><circle cx="606.4" cy="242.6" r="3.1"/><circle cx="619" cy="242.6" r="3.1"/><circle cx="631.5" cy="242.6" r="3.1"/><circle cx="644.1" cy="242.6" r="3.1"/><circle cx="656.6" cy="242.6" r="3.1"/><circle cx="669.2" cy="242.6" r="3.1"/></g>
<g fill="#231f20"><circle cx="674" cy="250.6" r="3.1"/><circle cx="674" cy="263.1" r="3.1"/><circle cx="674" cy="275.7" r="3.1"/><circle cx="674" cy="288.2" r="3.1"/><circle cx="674" cy="300.8" r="3.1"/><circle cx="674" cy="313.4" r="3.1"/><circle cx="674" cy="325.9" r="3.1"/><circle cx="674" cy="338.4" r="3.1"/><circle cx="674" cy="351" r="3.1"/><circle cx="674" cy="363.6" r="3.1"/><circle cx="674" cy="376.1" r="3.1"/><circle cx="674" cy="388.6" r="3.1"/><circle cx="674" cy="401.2" r="3.1"/><circle cx="674" cy="413.8" r="3.1"/><circle cx="674" cy="426.3" r="3.1"/><circle cx="674" cy="438.9" r="3.1"/><circle cx="674" cy="451.4" r="3.1"/><circle cx="674" cy="464" r="3.1"/><circle cx="674" cy="476.5" r="3.1"/></g>
<g fill="#231f20"><circle cx="407.1" cy="486" r="3.1"/><circle cx="419.7" cy="486" r="3.1"/><circle cx="432.2" cy="486" r="3.1"/><circle cx="444.8" cy="486" r="3.1"/><circle cx="457.3" cy="486" r="3.1"/><circle cx="469.9" cy="486" r="3.1"/><circle cx="482.4" cy="486" r="3.1"/><circle cx="495" cy="486" r="3.1"/><circle cx="507.5" cy="486" r="3.1"/><circle cx="520.1" cy="486" r="3.1"/><circle cx="532.6" cy="486" r="3.1"/><circle cx="545.2" cy="486" r="3.1"/><circle cx="557.7" cy="486" r="3.1"/><circle cx="570.2" cy="486" r="3.1"/><circle cx="582.8" cy="486" r="3.1"/><circle cx="595.4" cy="486" r="3.1"/><circle cx="607.9" cy="486" r="3.1"/><circle cx="620.5" cy="486" r="3.1"/><circle cx="633" cy="486" r="3.1"/><circle cx="645.6" cy="486" r="3.1"/><circle cx="658.1" cy="486" r="3.1"/><circle cx="670.7" cy="486" r="3.1"/></g>
<g fill="#231f20"><circle cx="405.6" cy="255.1" r="3.1"/><circle cx="405.6" cy="267.6" r="3.1"/><circle cx="405.6" cy="280.2" r="3.1"/><circle cx="405.6" cy="292.8" r="3.1"/><circle cx="405.6" cy="305.3" r="3.1"/><circle cx="405.6" cy="317.9" r="3.1"/><circle cx="405.6" cy="330.4" r="3.1"/><circle cx="405.6" cy="342.9" r="3.1"/><circle cx="405.6" cy="355.5" r="3.1"/><circle cx="405.6" cy="368.1" r="3.1"/><circle cx="405.6" cy="380.6" r="3.1"/><circle cx="405.6" cy="393.1" r="3.1"/><circle cx="405.6" cy="405.7" r="3.1"/><circle cx="405.6" cy="418.2" r="3.1"/><circle cx="405.6" cy="430.8" r="3.1"/><circle cx="405.6" cy="443.4" r="3.1"/><circle cx="405.6" cy="455.9" r="3.1"/><circle cx="405.6" cy="468.5" r="3.1"/><circle cx="405.6" cy="481" r="3.1"/></g>
<line x1="345.8" y1="34.5" x2="345.8" y2="114" stroke="#231f20" stroke-width="5" stroke-linecap="round" stroke-dasharray="7 17.3"/>
<line x1="177.1" y1="61.7" x2="151.4" y2="61.7" stroke="#231f20" stroke-width="3.2" stroke-linecap="butt"/>
<path d="M139.7,61.7 L153.4,58.1 L153.4,65.3 Z" fill="#231f20"/>
<line x1="306.3" y1="61.8" x2="327.7" y2="61.8" stroke="#231f20" stroke-width="3.2" stroke-linecap="butt"/>
<path d="M339.4,61.8 L325.7,65.4 L325.7,58.2 Z" fill="#231f20"/>
<line x1="385.4" y1="63.7" x2="360.4" y2="63.7" stroke="#231f20" stroke-width="3.2" stroke-linecap="butt"/>
<path d="M348.7,63.7 L362.4,60.1 L362.4,67.3 Z" fill="#231f20"/>
<line x1="670.4" y1="65.3" x2="691.1" y2="65.3" stroke="#231f20" stroke-width="3.2" stroke-linecap="butt"/>
<path d="M702.8,65.3 L689.1,68.9 L689.1,61.7 Z" fill="#231f20"/>
<line x1="521.3" y1="404.2" x2="505.6" y2="442.3" stroke="#9b2a2e" stroke-width="2.6" stroke-linecap="butt"/>
<path d="M500.8,453.9 L501.8,438.6 L510.9,442.4 Z" fill="#9b2a2e"/>
<line x1="578.6" y1="455.9" x2="578.6" y2="495.2" stroke="#3d55a3" stroke-width="2.3" stroke-linecap="butt"/>
<path d="M578.6,509.6 L573.5,493.2 L583.7,493.2 Z" fill="#3d55a3"/>
<line x1="633.2" y1="470.5" x2="648" y2="492.7" stroke="#e3302c" stroke-width="2.8" stroke-linecap="butt"/>
<path d="M655.5,503.9 L642.6,493.9 L651.2,488.1 Z" fill="#e3302c"/>
<line x1="656.3" y1="431.3" x2="680.8" y2="431.3" stroke="#231f20" stroke-width="2.6" stroke-linecap="butt"/>
<path d="M693.8,431.3 L678.8,435.5 L678.8,427.1 Z" fill="#231f20"/>
<text x="432.9" y="474.2" font-size="24.6" style="fill:#23894a">100 mA/g</text>
<text x="531.6" y="528.3" font-size="24.6" style="fill:#3d55a3">50 mA/g</text>
<text x="656.5" y="524.4" font-size="24.6" style="fill:#e3302c">20 mA/g</text>
<text x="693.3" y="439.4" font-size="24.6">10 mA/g</text>
<text x="50.5" y="1195" font-size="34">-500</text>
<line x1="125" y1="1099.9" x2="131.9" y2="1099.9" stroke="#231f20" stroke-width="5" stroke-linecap="round"/>
<text x="50.5" y="1107.4" font-size="34">-250</text>
<line x1="125" y1="1012.3" x2="131.9" y2="1012.3" stroke="#231f20" stroke-width="5" stroke-linecap="round"/>
<text x="99.6" y="1019.8" font-size="34">0</text>
<line x1="125" y1="924.7" x2="131.9" y2="924.7" stroke="#231f20" stroke-width="5" stroke-linecap="round"/>
<text x="61.8" y="932.2" font-size="34">250</text>
<line x1="125" y1="837.1" x2="131.9" y2="837.1" stroke="#231f20" stroke-width="5" stroke-linecap="round"/>
<text x="61.8" y="844.6" font-size="34">500</text>
<line x1="125" y1="749.5" x2="131.9" y2="749.5" stroke="#231f20" stroke-width="5" stroke-linecap="round"/>
<text x="61.8" y="757" font-size="34">750</text>
<line x1="125" y1="1143.7" x2="127.4" y2="1143.7" stroke="#231f20" stroke-width="5" stroke-linecap="round"/>
<line x1="125" y1="1056.1" x2="127.4" y2="1056.1" stroke="#231f20" stroke-width="5" stroke-linecap="round"/>
<line x1="125" y1="968.5" x2="127.4" y2="968.5" stroke="#231f20" stroke-width="5" stroke-linecap="round"/>
<line x1="125" y1="880.9" x2="127.4" y2="880.9" stroke="#231f20" stroke-width="5" stroke-linecap="round"/>
<line x1="125" y1="793.3" x2="127.4" y2="793.3" stroke="#231f20" stroke-width="5" stroke-linecap="round"/>
<line x1="125" y1="705.7" x2="127.4" y2="705.7" stroke="#231f20" stroke-width="5" stroke-linecap="round"/>
<line x1="145.8" y1="1185.1" x2="145.8" y2="1179.1" stroke="#231f20" stroke-width="5" stroke-linecap="round"/>
<text x="121.6" y="1221.4" font-size="35">2.0</text>
<line x1="260.5" y1="1185.1" x2="260.5" y2="1179.1" stroke="#231f20" stroke-width="5" stroke-linecap="round"/>
<text x="236" y="1221.4" font-size="35">2.5</text>
<line x1="375.1" y1="1185.1" x2="375.1" y2="1179.1" stroke="#231f20" stroke-width="5" stroke-linecap="round"/>
<text x="351" y="1221.4" font-size="35">3.0</text>
<line x1="489.8" y1="1185.1" x2="489.8" y2="1179.1" stroke="#231f20" stroke-width="5" stroke-linecap="round"/>
<text x="465.5" y="1221.4" font-size="35">3.5</text>
<line x1="604.4" y1="1185.1" x2="604.4" y2="1179.1" stroke="#231f20" stroke-width="5" stroke-linecap="round"/>
<text x="580.5" y="1221.4" font-size="35">4.0</text>
<line x1="719" y1="1185.1" x2="719" y2="1179.1" stroke="#231f20" stroke-width="5" stroke-linecap="round"/>
<text x="694.9" y="1221.4" font-size="35">4.5</text>
<line x1="203.1" y1="1185.1" x2="203.1" y2="1183.3" stroke="#231f20" stroke-width="5" stroke-linecap="round"/>
<line x1="317.8" y1="1185.1" x2="317.8" y2="1183.3" stroke="#231f20" stroke-width="5" stroke-linecap="round"/>
<line x1="432.4" y1="1185.1" x2="432.4" y2="1183.3" stroke="#231f20" stroke-width="5" stroke-linecap="round"/>
<line x1="547.1" y1="1185.1" x2="547.1" y2="1183.3" stroke="#231f20" stroke-width="5" stroke-linecap="round"/>
<line x1="661.7" y1="1185.1" x2="661.7" y2="1183.3" stroke="#231f20" stroke-width="5" stroke-linecap="round"/>
<line x1="776.4" y1="1185.1" x2="776.4" y2="1183.3" stroke="#231f20" stroke-width="5" stroke-linecap="round"/>
<text x="0.7" y="680.4" font-size="49">(b)</text>
<text x="269.1" y="1270" font-size="40">Voltage / V vs. Li/Li</text>
<path d="M631.5,1242 H643.5 M637.5,1236 V1248" stroke="#231f20" stroke-width="2.6" fill="none"/>
<g transform="translate(37.2,1094) rotate(-90)"><text x="-1.6" y="0" font-size="40">dQ/dV / mAh g</text><text transform="translate(274.8,-20.5) scale(0.85,1)" font-size="24">-1</text><text x="307.1" y="0" font-size="40">V</text><text transform="translate(333.2,-20.5) scale(0.85,1)" font-size="24">-1</text></g>
<line x1="155.3" y1="811.7" x2="237.5" y2="811.7" stroke="#231f20" stroke-width="5.2" stroke-linecap="round"/>
<text x="246.2" y="823.7" font-size="35">1/25 C</text>
<line x1="155.3" y1="856.3" x2="237.5" y2="856.3" stroke="#e3302c" stroke-width="5.2" stroke-linecap="round"/>
<text x="247.3" y="868.3" font-size="35">2/25 C</text>
<line x1="155.3" y1="899.4" x2="237.5" y2="899.4" stroke="#3d55a3" stroke-width="5.2" stroke-linecap="round"/>
<text x="246.2" y="911.4" font-size="35">1/5 C</text>
<line x1="155.3" y1="943.2" x2="237.5" y2="943.2" stroke="#23894a" stroke-width="5.2" stroke-linecap="round"/>
<text x="247.3" y="955.2" font-size="35">2/5 C</text>
<text x="265.4" y="1112.8" font-size="30">MnO</text>
<text x="333.2" y="1112.8" font-size="18">2</text>
<text x="354.8" y="1112.8" font-size="30">component</text>
<text x="273.9" y="1150.8" font-size="30.5">kinetics limited</text>
<path d="M268.9,1012.5 L300,1012.5" fill="none" stroke="#231f20" stroke-width="6.4" stroke-linecap="round" stroke-linejoin="round"/>
<path d="M297,1012.5 L385,1012.3" fill="none" stroke="#e3302c" stroke-width="6.4" stroke-linecap="round" stroke-linejoin="round"/>
<path d="M385,1012.3 L392,1012" fill="none" stroke="#3d55a3" stroke-width="6.4" stroke-linecap="round" stroke-linejoin="round"/>
<path d="M392,1011.8 L397,1010.8 L401.9,1010.2 L406.8,1009.7 L411.8,1009.6 L416.7,1009.3 L421.8,1009.6 L427,1009.5 L432.1,1010.1 L437.1,1010.4 L442,1010.5 L447.2,1010.9 L452.2,1011.4 L457.2,1011.8 L462.4,1012.2 L467.4,1012.3 L472.5,1012.4 L477.5,1012.1 L482.6,1012.1 L487.5,1011.4 L492.4,1010.5 L497.3,1009.4 L502.3,1008.2 L507.1,1006.6 L511.7,1004.7 L515.8,1001.9 L519.8,999 L523,995.4 L525.1,991.7 L528.6,986.2 L529.8,981.7 L533.1,978.1 L534,971.8 L536.2,966.5 L539.5,962.3 L541.9,958.9 L544.6,956 L548.1,952.7 L552.2,950 L556.9,948.9 L562.7,951.1 L566.7,952.7 L571.5,952.9 L577.2,954.7 L581,956.3 L585.9,954.3 L591.4,953.6 L595.5,951.2 L600,950.5 L604.9,948.5 L609.9,946.4 L615.6,945.7 L619.9,947.1 L624.2,946.4 L629.9,950.1 L633.6,950.7 L638.8,955.3 L642.3,957.8 L647.4,959.4 L651.1,960.5 L654.9,965.4 L659.8,967.1 L664.8,969.8 L670.2,970.1 L674.5,972.4 L679,970.9 L683.9,971.1 L687.8,966.8 L691.5,963 L693.1,959 L696.1,953.9 L697.7,950.1 L699.8,944.7 L700.8,941.9 L702.6,936.3 L702.9,931.1 L702.7,924.5 L702.9,921.9 L704.3,916.9 L703.6,910.9 L704.7,906.1 L704.9,901.8 L705,895.5 L706.4,891.5 L707,886 L707.6,881.6 L707.5,876 L708.9,871.6 L708.7,866.4 L709.9,860.8 L710,855.3 L710.4,851 L710.1,846.1 L711.8,841.8 L711.8,835.4 L712.1,830.9 L712,826.6 L711.8,821.4 L712,816 L712.9,809.9 L713.4,805.6 L713.5,801.8 L713.1,794.2 L713.3,791.1 L713.3,784.6 L714.5,781 L713.9,776.6 L713.9,770.9 L713.8,765.2 L714.7,761.6 L714.9,755 L714.6,749.8 L714,745.3 L715,741.2 L714.9,736.5 L714.4,729.3 L714.7,724.5 L714.4,719.9 L715.1,715.1 L714.7,711 L715.1,705 L715,699.9 L715.3,694.8 L715.4,690.1 L715.4,685.1 L715.5,679.9 L715.7,674.8 L716,669.9 L716,664.9" fill="none" stroke="#231f20" stroke-width="6.4" stroke-linecap="round" stroke-linejoin="round"/>
<path d="M730.5,665.4 L730.9,668.9 L730,674.7 L730.5,681.2 L731.3,685.6 L731.2,690.9 L730.7,695.2 L730.9,701.8 L730.8,706.5 L731,711.2 L731.5,715.3 L732.5,719.1 L731.4,727 L732.2,729.4 L733.2,737.2 L731.9,740.5 L732.1,745.2 L733,749.7 L733.3,754.4 L732.6,761.9 L733.1,765.6 L733.6,770.8 L733.4,774.4 L734.2,782.5 L734.7,786.5 L733.9,790.6 L734.6,796.6 L733.8,800.2 L734.4,806.1 L735.3,811.1 L734.2,817.2 L735,821.3 L734.9,826 L735.3,832.2 L735,836.5 L735.3,842.1 L735.3,845.8 L735.9,852 L735.6,856.6 L736.1,861.1 L736.7,868.3 L736.9,873.4 L736.5,878.4 L737.1,881.2 L738,888.6 L737.2,891.6 L739,896.9 L738.9,900.8 L739.5,907.6 L742.2,913.7 L742.9,915.3 L744.4,922.4 L747.3,926.5 L748.7,930.6 L751.8,935.2 L754.3,940.5 L758.2,942.1 L759.8,948.6 L761.9,953.2 L763.9,957 L765.2,960.2 L765.2,965.2 L766.1,971.6 L765.2,977.3 L765.5,980.3 L765.2,987.9 L765.1,991.9 L765.5,995.5" fill="none" stroke="#231f20" stroke-width="6.4" stroke-linecap="round" stroke-linejoin="round"/>
<path d="M392.5,1012.9 L397.6,1012.1 L402.6,1011.3 L407.6,1010.9 L412.7,1010.6 L417.7,1010.6 L422.7,1010.7 L427.9,1010.9 L432.8,1011.1 L437.8,1011.5 L443,1011.9 L448,1012.2 L453,1012.6 L458,1012.9 L463,1013.1 L468.1,1013.1 L473.1,1013.1 L478.1,1012.9 L483.2,1012.8 L488.2,1012.3 L493.2,1011.6 L498.1,1010.7 L503.2,1009.3 L508.1,1007.9 L512.9,1006 L517.3,1003.6 L521.1,1000.8 L524.5,997.2 L527.1,993.1 L529.4,989.4 L532.5,984.2 L534.3,980.6 L535.7,974.2 L538.7,970.8 L540.9,964.9 L543.4,962 L547.1,957.9 L550.2,954.7 L554.5,952.4 L558.9,952.7 L564.3,953.5 L569,955.3 L574.2,956.8 L578.8,958 L583.4,957.3 L587.9,957.6 L592.6,955.5 L597.4,954.6 L602.9,952.5 L607.3,950.5 L612.5,948.4 L617,949.7 L621.8,948.7 L626.6,950.4 L631,951.9 L635.8,954.8 L639.9,956.4 L644.8,960.5 L649.3,962.3 L653.9,964.8 L657.7,967.7 L663.1,970.4 L667.1,972.1 L672.8,972.8 L677.9,974.1 L682.5,973.8 L686.2,972 L688.8,968.8 L691,965.2 L693.1,958.9 L694.7,954.3 L695.8,950 L696.9,944.5 L698.1,939.2 L699.6,934.2 L700.2,929.9 L701,924.9 L701.7,919.8 L702.5,914.9 L703.3,910.1 L703.7,905 L704.3,900 L704.8,895.1 L705.3,889.8 L705.6,884.8 L706.2,879.8 L706.5,874.8 L706.8,870 L707.1,864.9 L707.5,859.9 L707.8,854.9 L708,849.8 L708.4,844.9 L708.7,839.6 L708.9,834.7 L709.3,829.7 L709.5,824.8 L709.7,819.5 L709.9,814.4 L710.3,809.4 L710.5,804.6 L710.8,799.6 L711,794.5 L711.2,789.5 L711.4,784.5 L711.6,779.3 L711.9,774.3 L712,769.4 L712.2,764.1 L712.3,759.1 L712.5,754.3 L712.6,749.2 L712.9,744.1 L713,739.1 L713.1,733.9 L713.2,729.1 L713.3,723.9 L713.4,718.9 L713.5,713.9 L713.5,708.9 L713.6,703.7 L713.7,698.7 L713.8,693.7 L713.8,688.8 L713.8,683.7 L713.8,678.6 L713.9,673.4 L713.8,668.4 L713.8,665.9" fill="none" stroke="#e3302c" stroke-width="6.4" stroke-linecap="round" stroke-linejoin="round"/>
<path d="M728.6,665.7 L729.3,671.2 L729.1,674.9 L729.7,680.8 L729.4,685.9 L729.6,691.2 L729.5,695.1 L730.4,700.5 L729.8,706.4 L730.3,710.1 L730.3,716.2 L730,721.2 L730.1,725.7 L730.2,730.4 L731.1,735.9 L731.3,741 L731,746.9 L731.1,750.4 L731.2,756.5 L730.8,760.5 L731.6,766.4 L731.1,771.3 L731.2,777 L731.6,780.6 L732,785.7 L731.6,790.6 L732.2,795.8 L732.1,800.8 L732.2,807 L732.5,811.6 L732.6,816.6 L732.8,821 L732.9,826.3 L733.5,832.8 L732.9,836.2 L733.7,842.1 L733.2,847.4 L734.4,851.9 L734,857.3 L734.9,861.8 L734.5,866.7 L735.1,872.3 L735.1,877.2 L735.2,882.1 L736.5,887.8 L736.1,893.5 L736.6,897.2 L736.8,902.1 L737.4,907.3 L738.7,912.3 L738.7,918 L740,922.4 L740.6,927.5 L741.2,932.8 L742.5,938.1 L743,943.1 L744,947 L745.9,951.9 L749,954.4 L754.2,956.6 L758.3,959.3 L761.8,961.6 L763.8,965.6 L764.9,972 L765.3,976.6 L765.7,982.7 L765.4,988.4 L765.1,992.1 L765.3,993.6" fill="none" stroke="#e3302c" stroke-width="6.4" stroke-linecap="round" stroke-linejoin="round"/>
<path d="M393.3,1012.2 L398.3,1011.4 L403.4,1010.7 L408.4,1010.6 L413.5,1010.5 L418.4,1010.2 L423.5,1010.2 L428.5,1010.4 L433.6,1010.9 L438.6,1010.9 L443.7,1011.4 L448.6,1011.7 L453.7,1011.9 L458.7,1012.3 L463.7,1012.8 L468.8,1012.7 L473.9,1013 L478.8,1012.8 L483.7,1012.2 L488.8,1012 L493.9,1011.3 L498.9,1010.2 L504,1008.9 L508.8,1007.3 L513.6,1005.8 L518,1003.2 L521.9,1000.2 L525.9,996.5 L527.7,992.4 L531,988.1 L533.3,983.6 L534.7,978.1 L537.5,975.3 L539,968.7 L541.5,964.8 L544.7,962 L547.8,956.3 L550.5,954.7 L556,950.7 L560,951.3 L565.6,951.4 L569.3,955.6 L574.9,956.1 L580,957.4 L584.5,956.6 L588.4,955.4 L593.5,956.1 L598.4,953.5 L603.7,952.6 L608.6,949.7 L613.8,949.7 L618.7,949.4 L622.2,949.1 L627.3,949.5 L632.1,950.5 L636.2,955.1 L640.8,957.5 L645.8,958.6 L649.7,962.3 L654.7,964.3 L658.2,966.4 L663.9,970.2 L667.5,972.3 L673.2,972.4 L679.1,972.9 L682.9,973.3 L687.5,972 L690,969.7 L691.9,965.1 L693,960.2 L694.7,954.9 L697,949.9 L697.8,944.7 L699.2,939.2 L699.5,934.7 L700.9,929.4 L701.7,924.5 L702.4,919.6 L703.3,914.5 L704,909.8 L704.5,904.5 L705,899.4 L705.5,894.7 L705.9,889.7 L706.5,884.6 L706.7,879.6 L707.1,874.6 L707.6,869.6 L707.8,864.6 L708.1,859.3 L708.5,854.2 L708.7,849.3 L709.1,844.3 L709.4,839.3 L709.6,834.3 L709.9,829.3 L710.2,824.2 L710.5,819.4 L710.7,814.4 L710.9,809.1 L711.3,804 L711.5,799.3 L711.7,794 L711.8,789 L712.1,784.1 L712.3,779.1 L712.5,774 L712.8,768.7 L713,763.8 L713.1,759 L713.2,753.8 L713.3,748.6 L713.6,743.7 L713.7,738.7 L713.8,733.5 L714,728.6 L714,723.7 L714.2,718.3 L714.3,713.5 L714.2,708.5 L714.4,703.2 L714.4,698.2 L714.4,693.5 L714.6,688.3 L714.6,683.2 L714.5,678.2 L714.6,673.2 L714.5,668.2 L714.5,665.7" fill="none" stroke="#3d55a3" stroke-width="6.4" stroke-linecap="round" stroke-linejoin="round"/>
<path d="M728,664.9 L728.2,669.9 L728.3,675.4 L728.3,680.5 L728.2,684.9 L728.7,689.6 L729.2,695 L729.3,701.3 L728.9,706.3 L729.6,710.9 L728.9,715.5 L729.6,720.2 L729.3,725.3 L729.4,731.3 L729.6,735.6 L730,741.7 L729.8,745 L730.5,751.6 L730.5,756 L730,760.3 L730.2,765.9 L730,771.5 L730.8,775.1 L731,781.1 L731.2,786.1 L731.2,791.1 L731.2,796.3 L730.7,800.6 L731.1,806.2 L731.4,811.5 L731.8,816.2 L731.7,821.5 L732.5,827.1 L732.4,832.2 L732.1,835.8 L732.2,840.9 L732.3,847 L733.5,851 L733.5,857.7 L733.8,861.2 L734,866.5 L733.8,871.1 L734.4,878 L734.3,881.5 L735,886.4 L735.4,892.8 L735.8,896.5 L735.9,901.9 L737,908.3 L737.4,911.7 L737.7,917.3 L738.3,921.7 L739.4,928.1 L740,933.1 L741.5,937.1 L741.9,941.5 L743.4,947.6 L744.9,950.9 L747.7,953.5 L752.6,955.6 L757.2,957.3 L761.5,961.2 L763.1,966.2 L764.3,971.5 L764.8,976.8 L764.4,982.6 L764.8,988 L764.3,992 L764.8,994.5" fill="none" stroke="#3d55a3" stroke-width="6.4" stroke-linecap="round" stroke-linejoin="round"/>
<path d="M144.7,1021 L149.9,1020.3 L154.9,1020.2 L160,1020.3 L164.8,1019.7 L170.1,1019.9 L175.1,1019.6 L180,1020.1 L184.9,1020.3 L190.1,1019.8 L194.8,1020.2 L200.2,1020.2 L204.9,1020.4 L209.9,1020.4 L215.1,1020.7 L220,1020.6 L225.1,1020.8 L230.2,1020.6 L235.4,1021 L240.4,1020.7 L245.6,1021.3 L250.4,1021.1 L255.7,1021.6 L260.7,1021.8 L265.7,1022.5 L270.4,1023.3 L275.5,1024.5 L280.1,1025.7 L284.7,1027.1 L290.2,1028.6 L293.4,1031.2 L299.3,1033.7 L303.2,1034.6 L308.1,1038.1 L312.8,1038.2 L317.5,1038.3 L321.1,1043.2 L328.1,1044.4 L331.5,1043.9 L336.5,1049.5 L341.9,1049 L346.8,1049.2 L350.7,1054.5 L355.4,1054.1 L359.3,1056.6 L365.5,1056.1 L369.7,1062.1 L374.5,1063.6 L379,1064.2 L383.2,1065.2 L386.8,1068.4 L392.9,1066 L397.7,1068 L402.3,1067.8 L407.7,1069.6 L412.9,1069.3 L416.5,1068.7 L421.8,1071 L428.5,1072.5 L433.3,1073.1 L437,1073.6 L443.1,1070.3 L446.6,1070.2 L453.5,1071.5 L457,1073.5 L462.6,1071.1 L467.2,1073.7 L472.2,1073.1 L478.4,1074.8 L482.3,1075.9 L486.5,1076.7 L492.2,1077.1 L496.3,1081.9 L502,1080.1 L507,1084.6 L510.4,1082.3 L515.5,1087.2 L520.3,1088.6 L526.4,1089.3 L530.2,1092.7 L536.5,1091.7 L540,1093.3 L545.4,1093.8 L550.2,1094.5 L554.5,1093 L561.7,1095.5 L565,1094.7 L569.8,1093.9 L575.5,1089.7 L578.8,1085.6 L584.7,1083.3 L588.8,1085.1 L592.4,1078.4 L597.2,1079.3 L601,1074.2 L604.4,1070.5 L608.2,1069.3 L613,1064.3 L616.5,1064 L621.4,1060.9 L626.1,1060.7 L632.1,1054.8 L635.2,1054.7 L640.9,1054.3 L645.5,1052.7 L650.5,1052 L655.6,1050.7 L660.5,1050.1 L665.3,1049.5 L670.2,1048.6 L675.1,1047.3 L680.3,1046.4 L685.1,1045.5 L689.9,1044.1 L694.6,1042.6 L699.5,1041.2 L704.3,1039.8 L708.8,1037.8 L713.4,1035.5 L717.9,1034 L722.6,1031.6 L726.8,1028.9 L731.1,1026 L735.2,1023.1 L739.1,1020.3 L743.7,1017.9 L748,1015.5 L752.4,1013.8 L757.4,1011.8 L759.9,1011.4" fill="none" stroke="#231f20" stroke-width="6.4" stroke-linecap="round" stroke-linejoin="round"/>
<path d="M144.9,1021.7 L149.7,1021.2 L155,1021.4 L160,1021.2 L165,1021.3 L170,1021.1 L175,1021.2 L180.1,1021.4 L185.2,1021.3 L190.1,1021.2 L195,1021.2 L200.1,1021.4 L205.2,1021.7 L210.2,1021.7 L215.2,1021.6 L220.3,1021.8 L225.4,1022.3 L230.4,1022.1 L235.6,1022.5 L240.6,1022.8 L245.6,1023 L250.6,1023.3 L255.8,1023.4 L260.7,1024.1 L265.6,1024.6 L270.6,1025.6 L275.5,1026.5 L280.3,1027.6 L285.2,1028.7 L289.9,1030.5 L294.9,1032 L298.8,1033.6 L304.1,1035.3 L309.1,1037.5 L313.8,1039.3 L318.7,1041.6 L323,1042.2 L328.1,1043.3 L332.6,1043.4 L337.8,1046.6 L342.8,1045.6 L348,1048.7 L353,1048.6 L357.6,1049.4 L362.4,1051 L366.7,1053.4 L371.5,1052.8 L377.5,1052.1 L381.6,1053.7 L386.9,1053 L391.3,1051.9 L396.6,1052.9 L401.5,1053.9 L406.4,1053.7 L411.4,1053 L417.5,1053.3 L421.7,1055.5 L426.9,1054.3 L432.8,1055.1 L436.4,1056.1 L442.2,1057.5 L446.5,1056.6 L451.4,1057 L457.5,1057.9 L462.8,1058.2 L467.9,1058.4 L472.4,1057.7 L477.7,1058.8 L481.7,1060.4 L487.5,1061.1 L491.6,1063.8 L495.8,1065.5 L500.7,1068.3 L504.4,1071.5 L507.8,1074.6 L512.3,1075.9 L516.5,1078.8 L521.2,1082.6 L526.4,1085.7 L531.8,1087.5 L535.7,1087.5 L540.6,1089 L546.1,1090.2 L551.2,1088.8 L555.7,1089.2 L560,1087 L565.3,1086 L570.5,1084.7 L574.2,1082.5 L578.8,1080.2 L583.5,1078.3 L587.4,1075.9 L591.4,1073.7 L596.6,1070.2 L600.1,1066.7 L604.4,1063.7 L608.7,1061.4 L613.2,1058.9 L617.9,1057.1 L622.6,1055.7 L627.5,1054 L632.4,1052.8 L637.2,1051.9 L642.2,1050.9 L647.3,1050.3 L652.1,1049.6 L657.2,1049 L662.1,1048.5 L667,1047.8 L672,1047.4 L676.9,1046.5 L681.9,1045.5 L686.8,1044.3 L691.8,1043 L696.5,1041.4 L701.3,1040 L706.2,1038.2 L710.8,1035.8 L715.3,1033.9 L719.7,1031.4 L724,1028.9 L728.4,1026.3 L732.6,1023.9 L737,1021.5 L741.4,1019.2 L745.7,1016.7 L750.3,1014.6 L754.9,1013 L759.9,1011.5" fill="none" stroke="#e3302c" stroke-width="6.4" stroke-linecap="round" stroke-linejoin="round"/>
<path d="M144.7,1022.3 L147.3,1022.2 L149.8,1022.1 L152.3,1022.1 L154.9,1022.1 L157.4,1022.1 L159.9,1022.1 L162.5,1022.1 L165,1022.1 L167.5,1022.2 L170,1022.2 L172.5,1022.3 L175.1,1022.4 L177.6,1022.5 L180.1,1022.6 L182.6,1022.7 L185.1,1022.8 L187.6,1023 L190.1,1023.1 L192.6,1023.3 L195.1,1023.4 L197.6,1023.6 L200.1,1023.8 L202.6,1024 L205.1,1024.2 L207.6,1024.4 L210.1,1024.6 L212.6,1024.8 L215.1,1025 L217.6,1025.3 L220.1,1025.5 L222.6,1025.7 L225.1,1026 L227.6,1026.2 L230.1,1026.5 L232.6,1026.8 L235,1027 L237.5,1027.3 L240,1027.6 L242.5,1027.8 L245,1028.1 L247.5,1028.4 L250,1028.7 L252.5,1029 L255,1029.3 L257.4,1029.5 L259.9,1029.8 L262.4,1030.1 L264.9,1030.4 L267.4,1030.7 L269.9,1031 L272.4,1031.3 L274.9,1031.6 L277.4,1031.8 L279.8,1032.1 L282.3,1032.4 L284.8,1032.7 L287.3,1033 L289.8,1033.2 L292.3,1033.5 L294.8,1033.8 L297.3,1034 L299.8,1034.3 L302.3,1034.5 L304.8,1034.8 L307.3,1035 L309.8,1035.3 L312.3,1035.5 L314.8,1035.7 L317.3,1035.9 L319.8,1036.1 L322.4,1036.4 L324.9,1036.5 L327.4,1036.7 L329.9,1036.9 L332.4,1037.1 L334.9,1037.3 L337.4,1037.4 L340,1037.6 L342.5,1037.8 L345,1037.9 L347.5,1038.1 L350,1038.2 L352.6,1038.4 L355.1,1038.5 L357.6,1038.7 L360.1,1038.8 L362.6,1039 L365.2,1039.1 L367.7,1039.3 L370.2,1039.4 L372.7,1039.6 L375.2,1039.7 L377.8,1039.9 L380.3,1040 L382.8,1040.2 L385.3,1040.4 L387.8,1040.5 L390.3,1040.7 L392.8,1040.9 L395.4,1041.1 L397.9,1041.3 L400.4,1041.5 L402.9,1041.7 L405.4,1041.9 L407.9,1042.1 L410.4,1042.3 L412.9,1042.6 L415.4,1042.8 L417.8,1043.1 L420.3,1043.3 L422.8,1043.6 L425.3,1043.9 L427.8,1044.2 L430.2,1044.5 L432.7,1044.8 L435.2,1045.1 L437.6,1045.5 L440.1,1045.9 L442.6,1046.2 L445,1046.6 L447.5,1047 L449.9,1047.5 L452.3,1047.9 L454.8,1048.4 L457.2,1048.9 L459.6,1049.4 L462,1049.9 L464.4,1050.5 L466.8,1051.1 L469.2,1051.8 L471.6,1052.4 L474,1053.1 L476.3,1053.9 L478.7,1054.7 L481,1055.5 L483.4,1056.4 L485.7,1057.3 L488,1058.2 L490.3,1059.3 L492.6,1060.3 L494.9,1061.4 L497.1,1062.6 L499.4,1063.8 L501.6,1065.1 L503.9,1066.4 L506.1,1067.7 L508.3,1069.1 L510.5,1070.5 L512.7,1072 L514.9,1073.4 L517.1,1074.8 L519.3,1076.1 L521.5,1077.5 L523.7,1078.7 L525.9,1079.9 L528.1,1081.1 L530.4,1082.1 L532.6,1083.1 L534.9,1083.9 L537.2,1084.6 L539.5,1085.2 L541.8,1085.6 L544.2,1085.9 L546.6,1086 L549,1086 L551.4,1085.7 L553.9,1085.3 L556.4,1084.8 L558.8,1084.2 L561.3,1083.5 L563.8,1082.6 L566.3,1081.7 L568.7,1080.7 L571.1,1079.6 L573.5,1078.5 L575.9,1077.4 L578.2,1076.2 L580.5,1075.1 L582.8,1073.9 L585,1072.7 L587.2,1071.5 L589.4,1070.3 L591.6,1069.1 L593.8,1068 L596,1066.8 L598.2,1065.7 L600.3,1064.6 L602.5,1063.5 L604.7,1062.4 L607,1061.4 L609.2,1060.5 L611.5,1059.5 L613.8,1058.7 L616.2,1057.9 L618.5,1057.1 L620.9,1056.4 L623.3,1055.7 L625.8,1055.1 L628.2,1054.6 L630.7,1054 L633.2,1053.6 L635.7,1053.1 L638.2,1052.7 L640.7,1052.4 L643.2,1052.1 L645.8,1051.9 L648.3,1051.7 L650.9,1051.5 L653.4,1051.4 L655.9,1051.3 L658.5,1051.3 L661,1051.3 L663.6,1051.3 L666.1,1051.4 L668.6,1051.5 L671.1,1051.6 L673.5,1051.5 L676,1051.3 L678.3,1050.9 L680.7,1050.3 L683,1049.4 L685.2,1048.3 L687.4,1047.1 L689.6,1045.8 L691.9,1044.4 L694.2,1043.2 L696.5,1042 L698.8,1041 L701.2,1040.1 L703.6,1039.2 L706,1038.3 L708.3,1037.3 L710.4,1036.2 L712.5,1034.9 L714.3,1033.3 L716.1,1031.5 L717.7,1029.6 L719.3,1027.6 L720.9,1025.7 L722.6,1023.8 L724.4,1022 L726.4,1020.5 L728.4,1019 L730.6,1017.8 L732.8,1016.7 L735.1,1015.7 L737.5,1014.8 L739.9,1014.1 L742.4,1013.5 L744.9,1013 L747.4,1012.6 L750,1012.2 L752.5,1012 L755,1011.9 L757.5,1011.8 L759.9,1011.8" fill="none" stroke="#3d55a3" stroke-width="6.4" stroke-linecap="round" stroke-linejoin="round"/>
<path d="M144.8,1021.9 L147.3,1022 L149.8,1022.1 L152.3,1022.1 L154.9,1022.2 L157.4,1022.3 L159.9,1022.4 L162.4,1022.5 L164.9,1022.6 L167.4,1022.6 L169.9,1022.7 L172.4,1022.8 L174.9,1022.9 L177.4,1023 L180,1023.2 L182.5,1023.3 L185,1023.4 L187.5,1023.5 L190,1023.6 L192.5,1023.7 L195,1023.8 L197.6,1024 L200.1,1024.1 L202.6,1024.2 L205.1,1024.4 L207.6,1024.5 L210.1,1024.6 L212.7,1024.8 L215.2,1024.9 L217.7,1025 L220.2,1025.2 L222.7,1025.3 L225.2,1025.5 L227.8,1025.6 L230.3,1025.8 L232.8,1025.9 L235.3,1026.1 L237.8,1026.3 L240.4,1026.4 L242.9,1026.6 L245.4,1026.7 L247.9,1026.9 L250.4,1027.1 L252.9,1027.2 L255.5,1027.4 L258,1027.6 L260.5,1027.7 L263,1027.9 L265.5,1028.1 L268,1028.2 L270.5,1028.4 L273.1,1028.6 L275.6,1028.8 L278.1,1028.9 L280.6,1029.1 L283.1,1029.3 L285.6,1029.5 L288.1,1029.7 L290.6,1029.8 L293.1,1030 L295.7,1030.2 L298.2,1030.4 L300.7,1030.6 L303.2,1030.7 L305.7,1030.9 L308.2,1031.1 L310.7,1031.3 L313.2,1031.5 L315.7,1031.7 L318.2,1031.8 L320.7,1032 L323.2,1032.2 L325.7,1032.4 L328.2,1032.6 L330.7,1032.7 L333.2,1032.9 L335.7,1033.1 L338.2,1033.3 L340.7,1033.5 L343.2,1033.6 L345.7,1033.8 L348.2,1034 L350.7,1034.2 L353.2,1034.3 L355.7,1034.5 L358.2,1034.7 L360.7,1034.8 L363.2,1035 L365.7,1035.1 L368.2,1035.3 L370.7,1035.5 L373.2,1035.6 L375.7,1035.8 L378.2,1035.9 L380.8,1036 L383.3,1036.2 L385.8,1036.3 L388.3,1036.4 L390.8,1036.6 L393.4,1036.7 L395.9,1036.8 L398.4,1036.9 L401,1037 L403.5,1037.1 L406.1,1037.2 L408.6,1037.3 L411.2,1037.4 L413.7,1037.5 L416.3,1037.5 L418.8,1037.6 L421.4,1037.7 L423.9,1037.8 L426.5,1038 L429,1038.1 L431.5,1038.3 L434.1,1038.5 L436.6,1038.7 L439.1,1039 L441.6,1039.3 L444.1,1039.7 L446.5,1040.1 L449,1040.5 L451.4,1041.1 L453.8,1041.6 L456.2,1042.3 L458.5,1043 L460.9,1043.8 L463.2,1044.6 L465.5,1045.5 L467.8,1046.5 L470,1047.5 L472.3,1048.5 L474.5,1049.6 L476.8,1050.7 L479,1051.9 L481.2,1053.1 L483.4,1054.3 L485.6,1055.6 L487.8,1056.9 L490,1058.2 L492.1,1059.5 L494.3,1060.8 L496.5,1062.1 L498.7,1063.5 L500.8,1064.8 L503,1066.1 L505.2,1067.5 L507.4,1068.8 L509.6,1070.1 L511.8,1071.4 L514,1072.7 L516.3,1074 L518.5,1075.2 L520.8,1076.4 L523,1077.5 L525.3,1078.6 L527.6,1079.6 L529.9,1080.6 L532.2,1081.4 L534.6,1082.1 L536.9,1082.8 L539.3,1083.3 L541.7,1083.6 L544.2,1083.9 L546.6,1083.9 L549.1,1083.8 L551.5,1083.6 L554,1083.2 L556.5,1082.7 L558.9,1082.1 L561.4,1081.4 L563.7,1080.6 L566.1,1079.7 L568.5,1078.8 L570.8,1077.9 L573.1,1076.8 L575.3,1075.8 L577.6,1074.7 L579.9,1073.5 L582.1,1072.4 L584.3,1071.2 L586.6,1070 L588.8,1068.9 L591,1067.7 L593.2,1066.5 L595.5,1065.3 L597.7,1064.2 L600,1063.1 L602.2,1062.1 L604.5,1061 L606.8,1060.1 L609.1,1059.1 L611.4,1058.3 L613.8,1057.5 L616.2,1056.8 L618.6,1056.2 L621,1055.7 L623.5,1055.2 L626,1054.9 L628.6,1054.7 L631.2,1054.6 L633.8,1054.6 L636.5,1054.7 L639.1,1054.8 L641.8,1055 L644.5,1055.3 L647.2,1055.5 L649.9,1055.8 L652.6,1056 L655.2,1056.2 L657.8,1056.4 L660.4,1056.5 L663,1056.6 L665.5,1056.6 L668,1056.4 L670.4,1056.1 L672.7,1055.7 L675,1055.2 L677.2,1054.5 L679.3,1053.6 L681.3,1052.5 L683.2,1051.2 L685,1049.7 L686.8,1048.1 L688.5,1046.4 L690.2,1044.6 L691.8,1042.6 L693.4,1040.6 L695,1038.5 L696.5,1036.4 L698.1,1034.3 L699.6,1032.2 L701.2,1030.1 L702.8,1028 L704.4,1026 L706.1,1024.1 L707.8,1022.3 L709.6,1020.6 L711.5,1019.1 L713.4,1017.7 L715.5,1016.4 L717.6,1015.4 L719.8,1014.5 L722,1013.7 L724.3,1013.1 L726.7,1012.6 L729.2,1012.2 L731.6,1011.9 L734.2,1011.7 L736.7,1011.6 L739.3,1011.5 L741.9,1011.5 L744.5,1011.5 L747.1,1011.6 L749.7,1011.7 L752.3,1011.7 L754.9,1011.8 L757.5,1011.9 L760,1011.9" fill="none" stroke="#23894a" stroke-width="6.4" stroke-linecap="round" stroke-linejoin="round"/>
<path d="M392,1011.8 L394.5,1011.4 L397.1,1011 L399.6,1010.6 L402.1,1010.3 L404.6,1010.1 L407.1,1009.9 L409.7,1009.8 L412.2,1009.7 L414.7,1009.7 L417.2,1009.6 L419.8,1009.7 L422.3,1009.7 L424.8,1009.8 L427.3,1009.9 L429.8,1010 L432.3,1010.1 L434.9,1010.3 L437.4,1010.4 L439.9,1010.6 L442.4,1010.8 L444.9,1011 L447.4,1011.1 L450,1011.3 L452.5,1011.5 L455,1011.6 L457.5,1011.8 L460,1011.9 L462.5,1012 L465,1012.1 L467.6,1012.1 L470.1,1012.2 L472.6,1012.1 L475.1,1012.1 L477.6,1012 L480.1,1011.9 L482.6,1011.7 L485.1,1011.5 L487.7,1011.3 L490.2,1010.9 L492.7,1010.6 L495.2,1010.1 L497.7,1009.6 L500.2,1009.1 L502.7,1008.4 L505.2,1007.7 L507.7,1006.9 L510.1,1006 L512.4,1005 L514.7,1003.9 L516.8,1002.7 L518.8,1001.3 L520.7,999.8 L522.4,998.1 L524,996.3 L525.5,994.4 L526.9,992.4 L528.1,990.3 L529.3,988.1 L530.5,985.8 L531.5,983.5 L532.6,981.1 L533.6,978.7 L534.7,976.3 L535.7,973.9 L536.8,971.5 L537.9,969.1 L539,966.8 L540.3,964.6 L541.6,962.4 L543,960.2 L544.6,958.2 L546.2,956.3 L548,954.5 L550,953 L552,951.8 L554.2,951 L556.4,950.6 L558.8,950.8 L561.2,951.3 L563.7,952.1 L566.2,953 L568.7,954 L571.2,954.9 L573.6,955.6 L576,956.1 L578.4,956.5 L580.7,956.7 L583.1,956.7 L585.4,956.6 L587.8,956.2 L590.1,955.7 L592.5,955.1 L594.9,954.3 L597.4,953.4 L599.8,952.4 L602.3,951.4 L604.8,950.5 L607.2,949.6 L609.7,948.9 L612.2,948.3 L614.6,947.9 L617,947.7 L619.3,947.8 L621.7,948 L624,948.5 L626.3,949.2 L628.6,950 L630.9,950.9 L633.1,952 L635.4,953.2 L637.6,954.4 L639.9,955.7 L642.1,957.1 L644.3,958.5 L646.5,960 L648.7,961.4 L651,962.8 L653.2,964.2 L655.4,965.5 L657.7,966.7 L659.9,967.9 L662.2,968.9 L664.5,969.9 L666.8,970.8 L669.3,971.5 L671.9,972.3 L674.6,972.9 L677.3,973.3 L679.9,973.5 L682.2,973.2 L684.3,972.4 L686,971.3 L687.5,969.8 L688.8,968 L689.9,965.9 L690.9,963.7 L691.7,961.3 L692.5,958.8 L693.2,956.4 L694,953.9 L694.6,951.4 L695.3,948.9 L695.9,946.4 L696.5,943.9 L697.1,941.4 L697.7,938.9 L698.2,936.4 L698.7,933.9 L699.2,931.4 L699.6,928.9 L700.1,926.5 L700.5,924 L700.9,921.5 L701.3,919 L701.7,916.5 L702,914 L702.4,911.5 L702.7,909 L703,906.5 L703.3,904 L703.6,901.4 L703.8,898.9 L704.1,896.4 L704.3,893.9 L704.6,891.4 L704.8,888.9 L705,886.4 L705.2,883.9 L705.4,881.4 L705.6,878.9 L705.8,876.4 L706,873.9 L706.1,871.4 L706.3,868.9 L706.5,866.4 L706.6,863.8 L706.8,861.3 L706.9,858.8 L707.1,856.3 L707.2,853.8 L707.4,851.3 L707.6,848.8 L707.7,846.3 L707.9,843.7 L708,841.2 L708.1,838.7 L708.3,836.2 L708.4,833.7 L708.6,831.2 L708.7,828.7 L708.8,826.2 L709,823.6 L709.1,821.1 L709.2,818.6 L709.4,816.1 L709.5,813.6 L709.6,811.1 L709.8,808.6 L709.9,806 L710,803.5 L710.1,801 L710.2,798.5 L710.4,796 L710.5,793.5 L710.6,790.9 L710.7,788.4 L710.8,785.9 L710.9,783.4 L711,780.9 L711.1,778.4 L711.2,775.8 L711.3,773.3 L711.4,770.8 L711.5,768.3 L711.6,765.8 L711.7,763.2 L711.8,760.7 L711.9,758.2 L711.9,755.7 L712,753.2 L712.1,750.7 L712.2,748.1 L712.3,745.6 L712.3,743.1 L712.4,740.6 L712.5,738.1 L712.5,735.5 L712.6,733 L712.7,730.5 L712.7,728 L712.8,725.5 L712.8,722.9 L712.9,720.4 L712.9,717.9 L713,715.4 L713,712.9 L713,710.3 L713.1,707.8 L713.1,705.3 L713.1,702.8 L713.2,700.3 L713.2,697.7 L713.2,695.2 L713.2,692.7 L713.3,690.2 L713.3,687.7 L713.3,685.2 L713.3,682.6 L713.3,680.1 L713.3,677.6 L713.3,675.1 L713.3,672.6 L713.3,670 L713.3,667.5 L713.3,665" fill="none" stroke="#23894a" stroke-width="6.4" stroke-linecap="round" stroke-linejoin="round"/>
<path d="M728.7,665 L728.8,667.5 L728.9,670 L729,672.6 L729,675.1 L729.1,677.6 L729.2,680.2 L729.2,682.7 L729.3,685.3 L729.4,687.8 L729.4,690.3 L729.5,692.8 L729.5,695.4 L729.6,697.9 L729.6,700.4 L729.7,703 L729.8,705.5 L729.8,708 L729.9,710.5 L729.9,713.1 L730,715.6 L730,718.1 L730.1,720.6 L730.1,723.2 L730.2,725.7 L730.2,728.2 L730.3,730.7 L730.3,733.3 L730.4,735.8 L730.4,738.3 L730.5,740.8 L730.5,743.3 L730.6,745.9 L730.6,748.4 L730.7,750.9 L730.7,753.4 L730.8,755.9 L730.8,758.5 L730.9,761 L730.9,763.5 L731,766 L731,768.5 L731.1,771.1 L731.1,773.6 L731.2,776.1 L731.2,778.6 L731.3,781.1 L731.4,783.7 L731.4,786.2 L731.5,788.7 L731.6,791.2 L731.6,793.7 L731.7,796.3 L731.8,798.8 L731.8,801.3 L731.9,803.8 L732,806.3 L732,808.9 L732.1,811.4 L732.2,813.9 L732.3,816.4 L732.4,819 L732.4,821.5 L732.5,824 L732.6,826.5 L732.7,829 L732.8,831.6 L732.9,834.1 L733,836.6 L733.1,839.2 L733.2,841.7 L733.3,844.2 L733.4,846.7 L733.5,849.3 L733.7,851.8 L733.8,854.3 L733.9,856.9 L734,859.4 L734.2,861.9 L734.3,864.5 L734.4,867 L734.6,869.5 L734.7,872.1 L734.9,874.6 L735,877.1 L735.2,879.7 L735.3,882.2 L735.5,884.8 L735.7,887.3 L735.9,889.8 L736,892.4 L736.3,894.9 L736.5,897.4 L736.7,899.9 L736.9,902.5 L737.2,905 L737.4,907.5 L737.7,910 L738,912.5 L738.3,915 L738.6,917.5 L738.9,920 L739.3,922.5 L739.6,925 L740,927.4 L740.4,929.9 L740.8,932.4 L741.3,934.8 L741.7,937.2 L742.2,939.7 L742.7,942.1 L743.3,944.5 L743.8,946.9 L744.4,949.3 L745.2,951.5 L746.5,953.3 L748.4,954.4 L750.8,955.3 L753.4,956 L756,956.9 L758.2,958.2 L760.1,959.7 L761.6,961.6 L762.8,963.8 L763.7,966.1 L764.4,968.6 L764.9,971.3 L765.2,974 L765.4,976.8 L765.4,979.6 L765.4,982.3 L765.3,985 L765.2,987.5 L765.1,989.9 L765.1,992.1 L765.1,994" fill="none" stroke="#23894a" stroke-width="6.4" stroke-linecap="round" stroke-linejoin="round"/>
<g fill="#8e2a2c"><circle cx="263.3" cy="1023.8" r="2.8"/><circle cx="273.7" cy="1023.8" r="2.8"/><circle cx="284.1" cy="1023.8" r="2.8"/><circle cx="294.5" cy="1023.8" r="2.8"/><circle cx="304.9" cy="1023.8" r="2.8"/><circle cx="315.3" cy="1023.8" r="2.8"/><circle cx="325.7" cy="1023.8" r="2.8"/><circle cx="336.1" cy="1023.8" r="2.8"/><circle cx="346.5" cy="1023.8" r="2.8"/><circle cx="356.9" cy="1023.8" r="2.8"/><circle cx="367.3" cy="1023.8" r="2.8"/><circle cx="377.7" cy="1023.8" r="2.8"/><circle cx="388.1" cy="1023.8" r="2.8"/><circle cx="398.5" cy="1023.8" r="2.8"/><circle cx="408.9" cy="1023.8" r="2.8"/><circle cx="419.3" cy="1023.8" r="2.8"/><circle cx="429.7" cy="1023.8" r="2.8"/><circle cx="440.1" cy="1023.8" r="2.8"/><circle cx="450.5" cy="1023.8" r="2.8"/><circle cx="460.9" cy="1023.8" r="2.8"/><circle cx="471.3" cy="1023.8" r="2.8"/><circle cx="481.7" cy="1023.8" r="2.8"/><circle cx="492.1" cy="1023.8" r="2.8"/><circle cx="502.5" cy="1023.8" r="2.8"/><circle cx="512.9" cy="1023.8" r="2.8"/></g>
<g fill="#8e2a2c"><circle cx="512.7" cy="1034.5" r="2.8"/><circle cx="512.7" cy="1044.8" r="2.8"/><circle cx="512.7" cy="1055.1" r="2.8"/><circle cx="512.7" cy="1065.4" r="2.8"/><circle cx="512.7" cy="1075.7" r="2.8"/><circle cx="512.7" cy="1086" r="2.8"/><circle cx="512.7" cy="1096.3" r="2.8"/><circle cx="512.7" cy="1106.6" r="2.8"/><circle cx="512.7" cy="1116.9" r="2.8"/><circle cx="512.7" cy="1127.2" r="2.8"/><circle cx="512.7" cy="1137.5" r="2.8"/><circle cx="512.7" cy="1147.8" r="2.8"/><circle cx="512.7" cy="1158.1" r="2.8"/></g>
<g fill="#8e2a2c"><circle cx="268.2" cy="1164.8" r="2.8"/><circle cx="278.6" cy="1164.8" r="2.8"/><circle cx="288.9" cy="1164.8" r="2.8"/><circle cx="299.2" cy="1164.8" r="2.8"/><circle cx="309.6" cy="1164.8" r="2.8"/><circle cx="319.9" cy="1164.8" r="2.8"/><circle cx="330.3" cy="1164.8" r="2.8"/><circle cx="340.6" cy="1164.8" r="2.8"/><circle cx="351" cy="1164.8" r="2.8"/><circle cx="361.3" cy="1164.8" r="2.8"/><circle cx="371.7" cy="1164.8" r="2.8"/><circle cx="382" cy="1164.8" r="2.8"/><circle cx="392.4" cy="1164.8" r="2.8"/><circle cx="402.8" cy="1164.8" r="2.8"/><circle cx="413.1" cy="1164.8" r="2.8"/><circle cx="423.4" cy="1164.8" r="2.8"/><circle cx="433.8" cy="1164.8" r="2.8"/><circle cx="444.1" cy="1164.8" r="2.8"/><circle cx="454.5" cy="1164.8" r="2.8"/><circle cx="464.9" cy="1164.8" r="2.8"/><circle cx="475.2" cy="1164.8" r="2.8"/><circle cx="485.5" cy="1164.8" r="2.8"/><circle cx="495.9" cy="1164.8" r="2.8"/><circle cx="506.2" cy="1164.8" r="2.8"/></g>
<g fill="#8e2a2c"><circle cx="263.4" cy="1034.3" r="2.8"/><circle cx="263.4" cy="1044.7" r="2.8"/><circle cx="263.4" cy="1055.1" r="2.8"/><circle cx="263.4" cy="1065.5" r="2.8"/><circle cx="263.4" cy="1075.9" r="2.8"/><circle cx="263.4" cy="1086.3" r="2.8"/><circle cx="263.4" cy="1096.7" r="2.8"/><circle cx="263.4" cy="1107.1" r="2.8"/><circle cx="263.4" cy="1117.5" r="2.8"/><circle cx="263.4" cy="1127.9" r="2.8"/><circle cx="263.4" cy="1138.3" r="2.8"/><circle cx="263.4" cy="1148.7" r="2.8"/><circle cx="263.4" cy="1159.1" r="2.8"/></g>
<line x1="122.7" y1="16.6" x2="122.7" y2="547.3" stroke="#231f20" stroke-width="5.2" stroke-linecap="butt"/>
<line x1="120.1" y1="19.4" x2="790" y2="19.4" stroke="#231f20" stroke-width="5.6" stroke-linecap="butt"/>
<line x1="120.1" y1="545" x2="790" y2="545" stroke="#231f20" stroke-width="4.6" stroke-linecap="butt"/>
<line x1="787.6" y1="16.6" x2="787.6" y2="547.3" stroke="#231f20" stroke-width="5.4" stroke-linecap="butt"/>
<line x1="122.7" y1="659.5" x2="122.7" y2="1190.5" stroke="#231f20" stroke-width="5.2" stroke-linecap="butt"/>
<line x1="120.1" y1="662.3" x2="790" y2="662.3" stroke="#231f20" stroke-width="5.6" stroke-linecap="butt"/>
<line x1="120.1" y1="1187.8" x2="790" y2="1187.8" stroke="#231f20" stroke-width="5.4" stroke-linecap="butt"/>
<line x1="787.6" y1="659.5" x2="787.6" y2="1190.5" stroke="#231f20" stroke-width="5.4" stroke-linecap="butt"/>
</svg>
</body></html>
